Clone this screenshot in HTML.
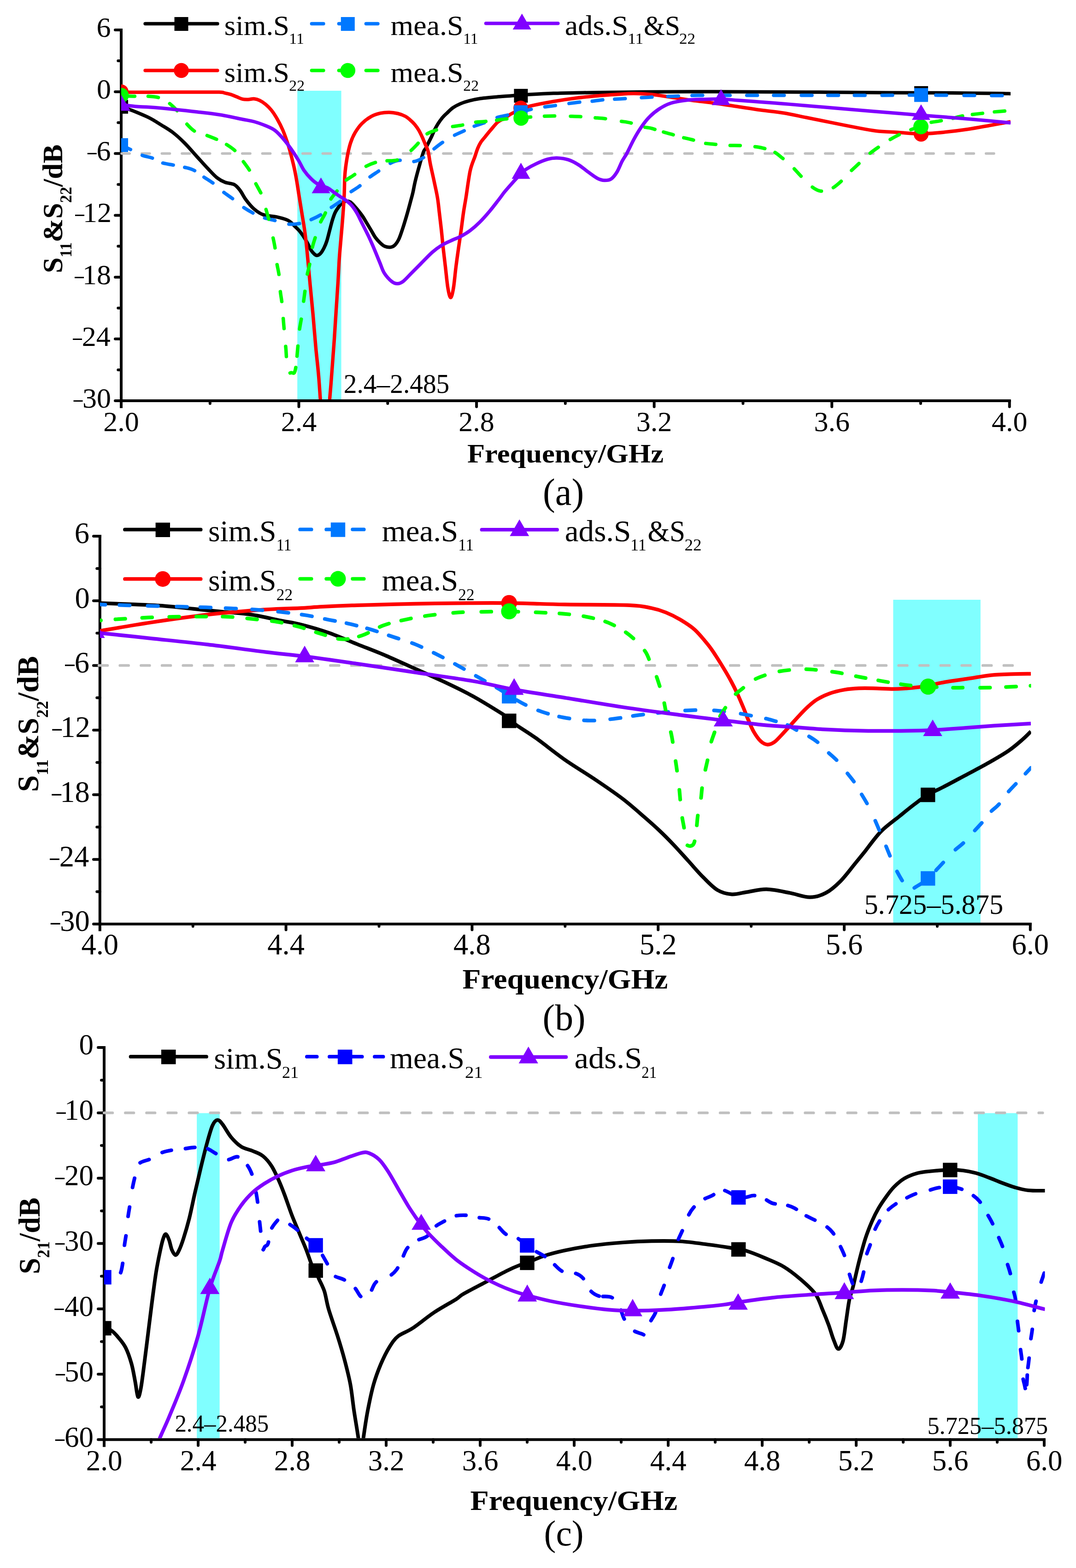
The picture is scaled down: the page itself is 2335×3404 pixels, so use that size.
<!DOCTYPE html>
<html><head><meta charset="utf-8"><title>S-parameter plots</title>
<style>html,body{margin:0;padding:0;background:#fff;}svg{display:block;}
text{font-family:"Liberation Serif","DejaVu Serif",serif;fill:#000;}</style></head>
<body><svg xmlns="http://www.w3.org/2000/svg" width="2335" height="3404" viewBox="0 0 2335 3404">
<rect x="0" y="0" width="2335" height="3404" fill="#fff"/>
<defs><clipPath id="ca"><rect x="263.0" y="0" width="1930.5" height="867.0"/></clipPath></defs>
<line x1="263.0" y1="62.0" x2="263.0" y2="886.0" stroke="#000000" stroke-width="6.0" stroke-linecap="butt"/>
<line x1="260.0" y1="870.0" x2="2193.7" y2="870.0" stroke="#000000" stroke-width="6.0" stroke-linecap="butt"/>
<line x1="250.0" y1="199.2" x2="263.0" y2="199.2" stroke="#000000" stroke-width="6.0" stroke-linecap="round"/>
<line x1="250.0" y1="333.3" x2="263.0" y2="333.3" stroke="#000000" stroke-width="6.0" stroke-linecap="round"/>
<line x1="250.0" y1="467.5" x2="263.0" y2="467.5" stroke="#000000" stroke-width="6.0" stroke-linecap="round"/>
<line x1="250.0" y1="601.7" x2="263.0" y2="601.7" stroke="#000000" stroke-width="6.0" stroke-linecap="round"/>
<line x1="250.0" y1="735.8" x2="263.0" y2="735.8" stroke="#000000" stroke-width="6.0" stroke-linecap="round"/>
<line x1="250.0" y1="870.0" x2="263.0" y2="870.0" stroke="#000000" stroke-width="6.0" stroke-linecap="round"/>
<line x1="250.0" y1="65.0" x2="266.0" y2="65.0" stroke="#000000" stroke-width="6.0" stroke-linecap="butt"/>
<circle cx="250" cy="65.0" r="3"/>
<line x1="256.3" y1="132.1" x2="263.0" y2="132.1" stroke="#000000" stroke-width="6.0" stroke-linecap="round"/>
<line x1="256.3" y1="266.2" x2="263.0" y2="266.2" stroke="#000000" stroke-width="6.0" stroke-linecap="round"/>
<line x1="256.3" y1="400.4" x2="263.0" y2="400.4" stroke="#000000" stroke-width="6.0" stroke-linecap="round"/>
<line x1="256.3" y1="534.6" x2="263.0" y2="534.6" stroke="#000000" stroke-width="6.0" stroke-linecap="round"/>
<line x1="256.3" y1="668.8" x2="263.0" y2="668.8" stroke="#000000" stroke-width="6.0" stroke-linecap="round"/>
<line x1="256.3" y1="802.9" x2="263.0" y2="802.9" stroke="#000000" stroke-width="6.0" stroke-linecap="round"/>
<line x1="648.5" y1="870.0" x2="648.5" y2="883.0" stroke="#000000" stroke-width="6.0" stroke-linecap="round"/>
<line x1="1034.1" y1="870.0" x2="1034.1" y2="883.0" stroke="#000000" stroke-width="6.0" stroke-linecap="round"/>
<line x1="1419.6" y1="870.0" x2="1419.6" y2="883.0" stroke="#000000" stroke-width="6.0" stroke-linecap="round"/>
<line x1="1805.2" y1="870.0" x2="1805.2" y2="883.0" stroke="#000000" stroke-width="6.0" stroke-linecap="round"/>
<line x1="2190.7" y1="870.0" x2="2190.7" y2="883.0" stroke="#000000" stroke-width="6.0" stroke-linecap="round"/>
<line x1="455.8" y1="870.0" x2="455.8" y2="876.0" stroke="#000000" stroke-width="6.0" stroke-linecap="round"/>
<line x1="841.3" y1="870.0" x2="841.3" y2="876.0" stroke="#000000" stroke-width="6.0" stroke-linecap="round"/>
<line x1="1226.8" y1="870.0" x2="1226.8" y2="876.0" stroke="#000000" stroke-width="6.0" stroke-linecap="round"/>
<line x1="1612.4" y1="870.0" x2="1612.4" y2="876.0" stroke="#000000" stroke-width="6.0" stroke-linecap="round"/>
<line x1="1997.9" y1="870.0" x2="1997.9" y2="876.0" stroke="#000000" stroke-width="6.0" stroke-linecap="round"/>
<text x="240.6" y="79.8" font-size="62.0" text-anchor="end">6</text>
<text x="241.1" y="214.0" font-size="62.0" text-anchor="end">0</text>
<text x="240.6" y="348.1" font-size="62.0" text-anchor="end">6</text>
<text x="190.0" y="348.1" font-size="62.0" textLength="19.5" lengthAdjust="spacingAndGlyphs">–</text>
<text x="242.1" y="482.3" font-size="62.0" text-anchor="end">12</text>
<text x="163.3" y="482.3" font-size="62.0" textLength="19.5" lengthAdjust="spacingAndGlyphs">–</text>
<text x="241.1" y="616.5" font-size="62.0" text-anchor="end">18</text>
<text x="162.3" y="616.5" font-size="62.0" textLength="19.5" lengthAdjust="spacingAndGlyphs">–</text>
<text x="239.7" y="750.6" font-size="62.0" text-anchor="end">24</text>
<text x="158.2" y="750.6" font-size="62.0" textLength="19.5" lengthAdjust="spacingAndGlyphs">–</text>
<text x="241.1" y="884.8" font-size="62.0" text-anchor="end">30</text>
<text x="159.8" y="884.8" font-size="62.0" textLength="19.5" lengthAdjust="spacingAndGlyphs">–</text>
<text x="263.0" y="935.5" font-size="62.0" text-anchor="middle">2.0</text>
<text x="648.5" y="935.5" font-size="62.0" text-anchor="middle">2.4</text>
<text x="1034.1" y="935.5" font-size="62.0" text-anchor="middle">2.8</text>
<text x="1419.6" y="935.5" font-size="62.0" text-anchor="middle">3.2</text>
<text x="1805.2" y="935.5" font-size="62.0" text-anchor="middle">3.6</text>
<text x="2190.7" y="935.5" font-size="62.0" text-anchor="middle">4.0</text>
<text x="135.0" y="593.0" font-size="62.0" font-weight="bold" textLength="279.6" lengthAdjust="spacingAndGlyphs" transform="rotate(-90 135.0 593.0)"><tspan>S</tspan><tspan font-size="35.0" dy="20.0">11</tspan><tspan dy="-20.0">&amp;S</tspan><tspan font-size="35.0" dy="20.0">22</tspan><tspan dy="-20.0">/dB</tspan></text>
<text x="1013.9" y="1004.2" font-size="57.9" font-weight="bold" textLength="426.2" lengthAdjust="spacingAndGlyphs">Frequency/GHz</text>
<text x="1178.1" y="1095.7" font-size="81.5" textLength="89.1" lengthAdjust="spacingAndGlyphs">(a)</text>
<rect x="645.2" y="197" width="95.4" height="670" fill="#80FFFF"/>
<line x1="264.0" y1="333.3" x2="2182.0" y2="333.3" stroke="#C0C0C0" stroke-width="5.5" stroke-linecap="round" stroke-dasharray="17.3 26.32"/>
<text x="745.8" y="852.5" font-size="59.6" textLength="229.5" lengthAdjust="spacingAndGlyphs">2.4–2.485</text>
<path d="M263.0,231.8 C265.4,232.6 271.4,234.3 277.6,236.5 C283.8,238.7 292.2,241.9 300.2,245.2 C308.1,248.5 316.9,252.1 325.3,256.5 C333.7,260.9 342.0,266.4 350.4,271.6 C358.8,276.8 367.1,281.4 375.5,287.9 C383.9,294.4 392.2,302.1 400.6,310.5 C409.0,318.9 417.3,328.9 425.7,338.1 C434.1,347.3 443.3,357.8 450.8,365.7 C458.3,373.6 464.5,380.8 470.8,385.8 C477.1,390.8 482.1,393.3 488.4,395.8 C494.7,398.3 503.1,397.9 508.5,400.8 C513.9,403.7 516.8,407.9 521.0,413.4 C525.2,418.8 528.6,426.8 533.6,433.5 C538.6,440.2 544.8,448.1 551.1,453.5 C557.4,458.9 562.8,463.2 571.2,466.1 C579.6,469.0 592.2,469.0 601.3,471.1 C610.4,473.2 619.2,475.4 625.7,478.8 C632.2,482.2 636.1,487.8 640.0,491.4 C643.9,495.0 646.0,496.9 649.0,500.4 C652.0,503.9 655.1,508.0 658.1,512.5 C661.1,517.0 664.4,522.5 667.1,527.5 C669.9,532.5 672.1,538.6 674.6,542.6 C677.1,546.6 679.9,549.6 682.2,551.6 C684.5,553.6 686.0,554.9 688.2,554.6 C690.5,554.4 693.2,552.9 695.7,550.1 C698.2,547.4 700.9,542.6 703.2,538.1 C705.5,533.6 707.3,529.3 709.3,523.0 C711.3,516.7 713.3,507.9 715.3,500.4 C717.3,492.9 719.3,484.4 721.3,477.9 C723.3,471.4 725.0,466.1 727.3,461.3 C729.6,456.5 732.4,452.8 734.9,449.3 C737.4,445.8 739.6,442.3 742.4,440.2 C745.1,438.1 748.4,436.8 751.4,436.5 C754.4,436.2 757.4,436.8 760.4,438.7 C763.4,440.6 766.5,444.4 769.5,447.7 C772.5,451.0 775.5,454.5 778.5,458.3 C781.5,462.1 784.5,465.8 787.5,470.3 C790.5,474.8 793.6,480.4 796.6,485.4 C799.6,490.4 802.6,495.4 805.6,500.4 C808.6,505.4 811.3,511.0 814.6,515.5 C817.9,520.0 821.7,524.2 825.2,527.5 C828.7,530.8 831.9,533.6 835.7,535.1 C839.5,536.6 844.3,537.1 847.8,536.6 C851.3,536.1 853.8,535.1 856.8,532.1 C859.8,529.1 862.8,525.0 865.8,518.5 C868.8,512.0 872.1,501.4 874.9,492.9 C877.7,484.4 880.0,476.4 882.6,467.6 C885.2,458.8 888.0,448.3 890.2,440.0 C892.4,431.7 894.2,425.8 896.0,418.0 C897.8,410.2 898.6,403.7 901.1,393.3 C903.6,382.9 908.2,366.2 911.2,355.7 C914.2,345.1 916.8,335.7 918.9,330.0 C921.0,324.3 922.0,325.2 923.9,321.7 C925.8,318.2 928.1,313.4 930.2,309.2 C932.3,305.0 934.4,301.0 936.5,296.6 C938.6,292.2 940.4,287.4 942.7,282.8 C945.0,278.2 947.4,273.6 950.3,269.0 C953.2,264.4 957.0,259.2 960.3,255.2 C963.6,251.2 966.5,248.8 970.3,245.2 C974.1,241.6 978.1,237.2 982.9,233.9 C987.7,230.6 993.4,227.6 999.2,225.1 C1005.1,222.6 1010.7,220.8 1018.0,218.9 C1025.3,217.0 1032.8,215.3 1043.1,213.8 C1053.4,212.3 1068.0,211.1 1080.0,210.1 C1092.0,209.1 1106.7,208.2 1115.1,207.6 C1123.5,207.0 1124.5,206.9 1130.4,206.5 C1136.4,206.1 1139.0,205.8 1150.8,205.1 C1162.6,204.4 1184.3,203.2 1201.0,202.6 C1217.7,202.0 1234.6,201.7 1251.1,201.4 C1267.6,201.1 1275.2,201.1 1300.0,200.8 C1324.8,200.5 1366.7,199.8 1400.0,199.5 C1433.3,199.2 1466.7,199.1 1500.0,199.0 C1533.3,198.9 1566.7,199.1 1600.0,199.2 C1633.3,199.3 1666.7,199.6 1700.0,199.8 C1733.3,200.0 1766.7,200.0 1800.0,200.2 C1833.3,200.4 1866.8,200.8 1900.0,201.0 C1933.2,201.2 1971.4,201.4 1999.0,201.5 C2026.6,201.6 2038.2,201.6 2065.6,201.8 C2093.0,202.0 2142.3,202.4 2163.5,202.7 C2184.7,203.0 2188.1,203.4 2193.0,203.5" fill="none" stroke="#000000" stroke-width="7.5" stroke-linejoin="round" stroke-linecap="butt" clip-path="url(#ca)"/>
<rect x="248.0" y="216.8" width="30.0" height="30.0" fill="#000000" clip-path="url(#ca)"/>
<rect x="1115.4" y="192.9" width="30.0" height="30.0" fill="#000000" clip-path="url(#ca)"/>
<rect x="1984.0" y="187.0" width="30.0" height="30.0" fill="#000000" clip-path="url(#ca)"/>
<path d="M263.0,199.3 C265.4,199.5 263.1,200.1 277.6,200.2 C292.1,200.3 326.3,200.1 350.0,200.1 C373.7,200.1 399.0,200.1 420.0,200.1 C441.0,200.1 464.4,199.8 475.8,200.1 C487.2,200.4 484.2,201.3 488.4,202.1 C492.6,202.9 496.8,203.8 501.0,205.1 C505.2,206.4 509.3,208.4 513.5,210.1 C517.7,211.8 521.8,214.1 526.0,215.1 C530.2,216.1 534.4,216.0 538.6,215.9 C542.8,215.8 546.9,214.2 551.1,214.6 C555.3,215.0 559.5,216.1 563.7,218.1 C567.9,220.1 572.0,222.9 576.2,226.4 C580.4,229.9 584.6,233.8 588.8,239.0 C593.0,244.2 597.1,250.5 601.3,257.8 C605.5,265.1 609.7,272.9 613.9,282.9 C618.1,292.9 622.6,305.9 626.4,318.0 C630.1,330.1 633.6,344.1 636.4,355.7 C639.2,367.3 640.9,375.9 643.0,387.5 C645.1,399.1 647.0,412.6 649.0,425.2 C651.0,437.8 653.1,450.3 655.1,462.8 C657.1,475.3 659.4,487.8 661.1,500.4 C662.9,512.9 664.2,524.8 665.6,538.1 C667.0,551.4 668.2,565.9 669.5,580.0 C670.8,594.1 671.8,605.4 673.5,623.0 C675.2,640.6 677.5,663.5 679.5,685.8 C681.5,708.0 683.5,735.3 685.5,756.5 C687.5,777.7 689.6,794.1 691.2,812.9 C692.9,831.7 693.9,849.9 695.4,869.4 C696.9,888.9 698.3,914.9 700.0,930.0 C701.7,945.1 703.7,960.0 705.5,960.0 C707.3,960.0 709.4,945.1 711.0,930.0 C712.6,914.9 714.0,886.1 715.2,869.4 C716.5,852.7 717.5,843.2 718.5,830.0 C719.5,816.8 720.3,805.7 721.5,790.0 C722.7,774.3 724.2,755.5 725.5,736.0 C726.8,716.5 728.1,693.9 729.5,673.0 C730.9,652.1 732.5,629.4 733.6,610.6 C734.8,591.8 735.3,575.9 736.4,560.0 C737.5,544.1 738.9,530.5 740.1,515.5 C741.4,500.6 742.8,485.4 743.9,470.3 C745.0,455.2 746.1,440.2 746.9,425.2 C747.6,410.1 747.4,393.7 748.4,380.0 C749.4,366.3 751.1,354.7 753.1,343.1 C755.1,331.5 757.7,319.7 760.6,310.5 C763.5,301.3 766.4,295.0 770.6,287.9 C774.8,280.8 779.8,273.6 785.7,267.8 C791.6,262.0 799.1,256.5 805.8,252.8 C812.5,249.1 819.3,247.2 825.8,245.7 C832.3,244.2 838.4,243.9 844.7,244.0 C851.0,244.1 857.6,245.1 863.5,246.5 C869.4,247.9 875.6,250.4 880.0,252.7 C884.4,255.0 886.6,257.4 890.0,260.3 C893.4,263.2 897.0,266.6 900.1,270.3 C903.2,274.1 906.2,278.2 908.9,282.8 C911.6,287.4 914.1,292.9 916.4,297.9 C918.7,302.9 920.6,308.0 922.7,313.0 C924.8,318.0 927.0,320.9 928.9,328.0 C930.8,335.1 931.6,344.8 933.8,355.7 C936.0,366.6 939.4,380.9 942.0,393.3 C944.6,405.7 947.6,418.4 949.5,430.0 C951.4,441.6 952.1,450.9 953.5,462.6 C954.9,474.3 956.5,487.8 957.9,500.3 C959.3,512.9 960.2,524.5 961.7,537.9 C963.2,551.3 965.0,566.0 966.7,580.6 C968.4,595.2 970.1,614.8 972.0,625.7 C973.9,636.6 976.0,646.0 978.0,646.0 C980.0,646.0 982.1,636.6 984.0,625.7 C985.9,614.8 987.4,595.7 989.3,580.6 C991.2,565.5 993.6,548.8 995.5,535.4 C997.4,522.0 998.9,512.4 1000.6,500.3 C1002.3,488.2 1003.9,474.3 1005.6,462.6 C1007.3,450.9 1008.5,445.3 1011.0,430.0 C1013.5,414.7 1017.0,385.8 1020.3,370.8 C1023.6,355.8 1027.8,348.2 1030.6,340.0 C1033.3,331.8 1034.7,326.8 1036.8,321.7 C1038.9,316.6 1040.4,313.4 1043.1,309.2 C1045.8,305.0 1049.5,301.0 1053.1,296.6 C1056.6,292.2 1059.9,288.0 1064.4,282.8 C1068.9,277.6 1075.2,269.5 1080.0,265.3 C1084.8,261.1 1087.9,260.9 1093.0,257.8 C1098.1,254.7 1104.4,249.9 1110.6,246.5 C1116.8,243.1 1123.5,240.0 1130.2,237.3 C1136.9,234.6 1139.0,233.0 1150.8,230.2 C1162.6,227.3 1184.3,223.1 1201.0,220.2 C1217.7,217.3 1234.4,214.8 1251.1,212.7 C1267.8,210.6 1286.9,208.9 1301.3,207.6 C1315.7,206.3 1325.3,205.8 1337.6,205.1 C1349.9,204.3 1362.8,203.1 1375.3,203.1 C1387.8,203.1 1400.4,203.9 1412.9,205.1 C1425.5,206.3 1435.9,208.1 1450.6,210.2 C1465.2,212.3 1484.1,215.4 1500.8,217.7 C1517.5,220.0 1534.2,221.7 1550.9,224.0 C1567.6,226.3 1584.4,229.0 1601.1,231.5 C1617.8,234.0 1634.8,236.7 1651.3,239.0 C1667.8,241.3 1683.7,242.6 1700.2,245.3 C1716.7,248.0 1733.7,252.0 1750.4,255.3 C1767.1,258.6 1783.9,262.0 1800.6,265.4 C1817.3,268.8 1834.1,272.3 1850.8,275.4 C1867.5,278.5 1884.4,282.2 1901.0,284.2 C1917.6,286.2 1934.0,286.4 1950.2,287.5 C1966.4,288.6 1981.3,290.6 1998.0,290.5 C2014.7,290.4 2033.5,288.5 2050.6,286.8 C2067.7,285.1 2084.1,283.0 2100.8,280.5 C2117.5,278.0 2135.6,274.4 2151.0,271.7 C2166.4,269.0 2186.0,265.4 2193.0,264.2" fill="none" stroke="#FF0000" stroke-width="7.5" stroke-linejoin="round" stroke-linecap="butt" clip-path="url(#ca)"/>
<circle cx="263.0" cy="199.3" r="16.0" fill="#FF0000" clip-path="url(#ca)"/>
<circle cx="1130.0" cy="234.4" r="16.0" fill="#FF0000" clip-path="url(#ca)"/>
<circle cx="1998.9" cy="291.5" r="16.0" fill="#FF0000" clip-path="url(#ca)"/>
<path d="M263.0,315.0 C265.8,316.3 272.6,319.4 280.0,323.0 C287.4,326.6 299.3,333.4 307.7,336.8 C316.1,340.2 323.2,340.4 330.3,343.1 C337.4,345.8 342.9,350.6 350.4,353.1 C357.9,355.6 367.1,356.5 375.5,358.2 C383.9,359.9 393.1,361.3 400.6,363.2 C408.1,365.1 413.9,366.1 420.6,369.5 C427.3,372.9 433.6,378.5 440.7,383.3 C447.8,388.1 456.2,392.9 463.3,398.3 C470.4,403.7 476.3,410.2 483.4,415.9 C490.5,421.5 498.9,426.8 506.0,432.2 C513.1,437.6 518.9,443.5 526.0,448.5 C533.1,453.5 541.1,458.3 548.6,462.3 C556.1,466.3 563.2,469.6 571.2,472.3 C579.2,475.0 587.6,476.3 596.3,478.6 C604.9,480.9 614.0,485.2 623.1,486.3 C632.2,487.4 642.4,486.6 650.8,485.1 C659.2,483.7 665.8,480.7 673.3,477.6 C680.8,474.5 688.6,470.8 695.7,466.6 C702.8,462.4 708.7,457.3 716.0,452.3 C723.3,447.3 732.2,442.1 739.4,436.5 C746.5,430.9 752.1,423.8 758.9,418.4 C765.7,413.0 773.0,409.5 780.0,404.1 C787.0,398.7 794.0,391.2 800.8,385.8 C807.6,380.4 813.5,377.0 820.8,372.0 C828.1,367.0 837.2,359.7 844.7,355.7 C852.2,351.7 857.0,349.0 866.0,348.1 C875.0,347.2 889.4,351.9 898.6,350.6 C907.8,349.4 914.5,344.8 921.2,340.6 C927.9,336.4 932.5,330.7 939.0,325.5 C945.5,320.3 953.0,314.2 960.3,309.2 C967.6,304.2 975.6,299.4 982.9,295.4 C990.2,291.4 997.1,288.8 1004.2,285.4 C1011.3,282.0 1017.6,278.4 1025.5,275.3 C1033.3,272.2 1042.5,269.8 1051.3,266.5 C1060.0,263.2 1069.0,258.2 1078.0,255.3 C1087.0,252.4 1096.9,251.0 1105.6,249.0 C1114.3,247.0 1122.5,245.4 1130.0,243.5 C1137.5,241.6 1142.7,239.6 1150.8,237.8 C1158.9,236.0 1169.2,234.2 1178.4,232.7 C1187.6,231.2 1197.2,230.2 1206.0,229.0 C1214.8,227.8 1221.8,226.5 1231.0,225.2 C1240.2,223.9 1252.8,222.2 1261.2,221.4 C1269.6,220.6 1272.8,221.0 1281.2,220.2 C1289.6,219.4 1300.7,217.3 1311.4,216.4 C1322.1,215.5 1330.0,215.5 1345.2,214.7 C1360.5,213.9 1383.7,212.4 1402.9,211.4 C1422.1,210.4 1442.2,209.6 1460.6,208.9 C1479.0,208.2 1490.1,207.4 1513.3,207.1 C1536.5,206.8 1568.9,207.0 1600.0,207.0 C1631.1,207.0 1666.7,207.0 1700.0,207.0 C1733.3,207.0 1766.7,207.0 1800.0,207.0 C1833.3,207.0 1866.8,207.1 1900.0,207.0 C1933.2,206.9 1965.7,206.5 1999.0,206.5 C2032.3,206.5 2067.7,207.0 2100.0,207.2 C2132.3,207.4 2177.5,207.6 2193.0,207.7" fill="none" stroke="#0078FF" stroke-width="7.5" stroke-linejoin="round" stroke-linecap="round" stroke-dasharray="23.0 28.0 23.0 25.2 23.0 25.2 23.0 24.7 23.0 31.5 23.0 31.4 23.0 27.6 23.0 31.4 23.0 26.8 23.0 28.6 23.0 31.9 23.0 28.9 23.0 29.8 23.0 29.8 23.0 29.8 23.0 30.3 23.0 24.1 23.0 30.1 23.0 30.1 23.0 30.1 23.0 30.1 23.0 27.5 23.0 25.9 23.0 35.2 23.0 34.2 23.0 29.8 23.0 36.4 23.0 36.4 23.0 35.0 23.0 37.3 23.0 34.5 23.0 34.6 23.0 36.9 23.0 36.3 23.0 34.7 23.0 37.9 23.0 36.8 23.0 28.0 23.0 4047.5" stroke-dashoffset="0.34" clip-path="url(#ca)"/>
<rect x="248.0" y="300.0" width="30.0" height="30.0" fill="#0078FF" clip-path="url(#ca)"/>
<rect x="1115.0" y="228.5" width="30.0" height="30.0" fill="#0078FF" clip-path="url(#ca)"/>
<rect x="1983.9" y="191.3" width="30.0" height="30.0" fill="#0078FF" clip-path="url(#ca)"/>
<path d="M263.0,207.2 C265.4,207.4 273.1,208.2 277.6,208.5 C282.1,208.8 283.5,208.8 290.2,208.9 C296.9,209.0 308.6,208.4 317.8,208.9 C327.0,209.4 337.5,209.8 345.4,212.1 C353.3,214.4 358.7,217.8 365.4,222.7 C372.1,227.6 379.2,234.2 385.5,241.5 C391.8,248.8 396.8,259.3 403.1,266.6 C409.4,273.9 416.0,281.0 423.1,285.4 C430.2,289.8 438.2,290.2 445.7,292.9 C453.2,295.6 461.2,298.6 468.3,301.7 C475.4,304.8 481.3,307.3 488.4,311.7 C495.5,316.1 504.7,322.0 511.0,328.1 C517.3,334.2 520.6,340.6 526.0,348.1 C531.4,355.6 539.0,365.2 543.6,373.2 C548.2,381.1 549.4,387.2 553.6,395.8 C557.8,404.4 564.9,415.5 568.7,424.7 C572.5,433.9 573.6,441.8 576.2,451.0 C578.8,460.2 581.7,469.8 584.3,480.1 C586.9,490.4 589.7,503.1 591.8,512.7 C593.9,522.3 595.3,528.2 596.8,537.8 C598.3,547.4 599.1,560.4 600.6,570.4 C602.1,580.4 604.4,588.0 605.6,598.0 C606.9,608.0 607.1,620.6 608.1,630.6 C609.1,640.6 610.9,648.6 611.9,658.2 C612.9,667.8 613.6,678.4 614.4,688.4 C615.2,698.4 615.9,706.6 616.9,718.5 C617.9,730.4 619.7,748.1 620.6,760.0 C621.5,771.9 621.6,781.9 622.5,790.0 C623.4,798.1 624.4,805.5 626.0,808.7 C627.6,811.9 629.8,809.0 632.0,809.0 C634.2,809.0 637.2,811.9 639.0,808.7 C640.8,805.5 641.9,798.1 643.0,790.0 C644.1,781.9 644.6,771.9 645.7,760.0 C646.8,748.1 648.0,730.4 649.5,718.5 C651.0,706.6 653.0,698.4 654.5,688.4 C656.0,678.4 657.0,667.8 658.3,658.2 C659.5,648.6 660.8,640.2 662.0,630.6 C663.2,621.0 664.1,610.1 665.8,600.5 C667.5,590.9 670.2,582.9 672.1,572.9 C674.0,562.9 675.0,550.1 677.1,540.3 C679.2,530.5 681.8,523.1 684.6,514.0 C687.5,504.9 690.6,494.0 694.2,485.4 C697.8,476.8 702.6,470.4 706.2,462.1 C709.8,453.8 712.0,443.4 716.0,435.7 C720.0,428.0 724.9,423.1 730.3,416.1 C735.7,409.1 742.1,399.6 748.4,393.6 C754.7,387.6 761.0,385.1 768.0,380.0 C775.0,374.9 783.2,367.7 790.7,363.2 C798.2,358.7 805.8,355.4 813.3,353.1 C820.8,350.8 827.5,350.4 835.9,349.4 C844.3,348.4 854.7,350.2 863.5,346.9 C872.3,343.5 881.9,334.9 888.8,329.3 C895.7,323.8 899.4,319.7 905.1,313.6 C910.9,307.5 916.0,298.2 923.3,292.9 C930.6,287.6 939.8,284.5 949.0,281.6 C958.2,278.7 969.5,277.0 978.5,275.3 C987.5,273.6 994.8,273.2 1003.0,271.6 C1011.2,270.0 1020.2,267.2 1028.0,265.9 C1035.8,264.6 1042.5,264.7 1050.0,264.0 C1057.5,263.3 1064.4,262.6 1073.0,261.6 C1081.6,260.6 1092.2,258.7 1101.8,257.8 C1111.4,256.9 1122.5,257.0 1130.7,256.4 C1138.9,255.8 1143.1,254.8 1150.8,254.1 C1158.5,253.4 1167.9,252.7 1177.1,252.3 C1186.3,251.9 1196.6,251.8 1206.0,251.8 C1215.4,251.8 1224.2,252.1 1233.6,252.3 C1243.0,252.6 1253.4,252.8 1262.4,253.3 C1271.4,253.8 1278.7,254.6 1287.5,255.3 C1296.3,256.1 1305.6,256.6 1315.0,257.8 C1324.4,259.1 1335.1,261.3 1343.9,262.8 C1352.7,264.3 1359.2,264.5 1367.8,266.6 C1376.4,268.7 1387.9,273.4 1395.4,275.4 C1402.9,277.4 1406.2,276.7 1412.9,278.4 C1419.6,280.1 1428.0,283.2 1435.5,285.4 C1443.0,287.6 1450.8,289.6 1458.1,291.7 C1465.4,293.8 1472.3,296.1 1479.4,298.0 C1486.5,299.9 1492.8,300.9 1500.8,303.0 C1508.8,305.1 1519.2,308.8 1527.1,310.5 C1535.0,312.2 1539.6,312.2 1548.4,313.0 C1557.2,313.8 1570.0,315.0 1579.8,315.5 C1589.6,316.0 1598.4,315.6 1607.4,316.0 C1616.4,316.4 1625.8,317.1 1633.8,318.0 C1641.8,318.9 1647.6,319.4 1655.1,321.3 C1662.6,323.2 1671.8,325.7 1678.9,329.3 C1686.0,332.9 1690.8,337.5 1697.7,343.1 C1704.6,348.8 1713.6,356.7 1720.3,363.2 C1727.0,369.7 1731.3,375.3 1737.8,382.0 C1744.3,388.7 1752.1,397.9 1759.2,403.4 C1766.3,408.8 1773.0,413.7 1780.5,414.7 C1788.0,415.7 1796.8,413.2 1804.3,409.6 C1811.8,406.0 1819.0,399.4 1825.7,393.3 C1832.4,387.2 1838.0,379.8 1844.5,373.3 C1851.0,366.8 1857.9,360.7 1864.6,354.4 C1871.3,348.1 1877.9,341.2 1884.6,335.6 C1891.3,330.0 1897.6,325.6 1904.7,320.6 C1911.8,315.6 1919.8,310.1 1927.3,305.5 C1934.8,300.9 1942.4,296.8 1949.9,293.0 C1957.4,289.2 1964.4,285.9 1972.5,282.9 C1980.6,279.9 1991.1,277.7 1998.4,275.0 C2005.7,272.3 2009.8,268.6 2016.4,266.6 C2023.0,264.6 2030.2,264.3 2038.0,262.9 C2045.8,261.4 2055.6,259.6 2063.1,257.9 C2070.6,256.2 2076.1,254.4 2083.2,252.9 C2090.3,251.4 2097.9,250.2 2105.8,249.1 C2113.8,248.0 2123.0,247.1 2130.9,246.1 C2138.8,245.1 2144.9,244.2 2153.5,243.3 C2162.1,242.4 2175.7,241.4 2182.3,240.8 C2188.9,240.2 2191.3,240.0 2193.1,239.8" fill="none" stroke="#00FF00" stroke-width="7.5" stroke-linejoin="round" stroke-linecap="round" stroke-dasharray="22.0 29.0 22.0 29.0 22.0 28.6 22.0 36.3 22.0 29.5 22.0 24.7 22.0 31.0 22.0 33.4 22.0 38.0 22.0 41.7 22.0 36.4 22.0 37.2 22.0 36.9 22.0 38.6 22.0 39.4 22.0 24.5 22.0 36.9 22.0 39.0 22.0 37.6 22.0 37.1 22.0 36.3 22.0 32.4 22.0 31.2 22.0 30.2 22.0 25.8 22.0 36.8 22.0 28.3 22.0 35.7 22.0 29.1 22.0 23.9 22.0 30.0 22.0 30.0 22.0 34.5 22.0 32.0 22.0 34.9 22.0 31.2 22.0 19.4 22.0 23.7 22.0 27.3 22.0 31.0 22.0 32.1 22.0 23.5 22.0 32.8 22.0 34.0 22.0 27.1 22.0 32.5 22.0 33.0 22.0 30.9 22.0 27.9 22.0 25.0 22.0 25.5 22.0 21.6 22.0 26.1 22.0 29.0 22.0 4862.5" stroke-dashoffset="43.38" clip-path="url(#ca)"/>
<circle cx="263.0" cy="207.2" r="16.5" fill="#00FF00" clip-path="url(#ca)"/>
<circle cx="1130.7" cy="256.4" r="16.5" fill="#00FF00" clip-path="url(#ca)"/>
<circle cx="1998.4" cy="275.0" r="16.5" fill="#00FF00" clip-path="url(#ca)"/>
<path d="M263.0,226.0 C265.5,226.6 271.8,228.4 278.0,229.3 C284.2,230.2 292.1,230.9 300.0,231.5 C307.9,232.1 312.7,231.8 325.3,232.7 C337.9,233.6 358.8,235.5 375.5,237.2 C392.2,238.9 409.0,240.7 425.7,242.7 C442.4,244.7 459.1,246.3 475.8,249.0 C492.5,251.7 513.5,256.5 526.0,259.0 C538.5,261.5 542.7,261.7 551.1,264.0 C559.5,266.3 568.7,269.7 576.2,272.8 C583.7,275.9 590.0,278.3 596.3,282.9 C602.6,287.5 608.0,293.8 613.9,300.5 C619.8,307.2 625.8,315.1 631.4,323.0 C637.0,330.9 642.9,340.2 647.7,348.1 C652.5,356.1 655.6,364.0 660.2,370.7 C664.8,377.4 670.4,383.5 675.3,388.3 C680.2,393.1 683.8,396.3 689.7,399.6 C695.6,402.9 705.3,405.1 710.8,407.9 C716.3,410.6 718.3,413.0 722.8,416.1 C727.3,419.2 733.4,423.7 737.9,426.7 C742.4,429.7 746.1,431.4 749.9,434.2 C753.6,436.9 757.4,440.2 760.4,443.2 C763.4,446.2 765.5,448.8 768.0,452.3 C770.5,455.8 773.0,459.8 775.5,464.3 C778.0,468.8 780.5,474.4 783.0,479.4 C785.5,484.4 787.8,488.9 790.6,494.4 C793.4,499.9 796.7,506.4 799.6,512.5 C802.5,518.6 805.3,524.8 808.0,531.0 C810.7,537.2 813.2,543.2 816.0,550.0 C818.8,556.8 822.0,564.8 825.0,572.0 C828.0,579.2 829.8,586.5 834.0,593.0 C838.2,599.5 845.2,607.2 850.0,611.0 C854.8,614.8 858.3,615.8 862.5,615.7 C866.7,615.7 870.1,614.5 875.1,610.7 C880.1,606.9 886.4,599.4 892.7,593.1 C899.0,586.8 905.2,580.5 912.7,573.0 C920.2,565.5 930.3,554.6 937.8,547.9 C945.3,541.2 951.2,537.1 957.9,532.9 C964.6,528.7 970.9,526.1 978.0,522.8 C985.1,519.4 993.5,516.5 1000.6,512.8 C1007.7,509.0 1013.9,505.3 1020.6,500.3 C1027.3,495.3 1033.6,489.8 1040.7,482.7 C1047.8,475.6 1056.2,466.1 1063.3,457.6 C1070.4,449.2 1078.0,438.9 1083.4,432.0 C1088.8,425.1 1090.5,421.9 1095.5,415.9 C1100.5,409.9 1107.3,402.3 1113.1,395.8 C1118.9,389.3 1125.9,381.6 1130.5,377.0 C1135.1,372.4 1135.2,371.8 1140.7,368.2 C1146.2,364.6 1155.3,359.4 1163.3,355.7 C1171.2,351.9 1180.9,347.8 1188.4,345.7 C1195.9,343.6 1201.0,342.9 1208.5,343.1 C1216.0,343.3 1225.7,344.4 1233.6,346.9 C1241.5,349.4 1249.0,353.8 1256.1,358.2 C1263.2,362.6 1269.5,368.5 1276.2,373.3 C1282.9,378.1 1290.4,384.1 1296.3,387.1 C1302.2,390.1 1306.4,391.3 1311.4,391.5 C1316.4,391.7 1321.8,391.3 1326.4,388.3 C1331.0,385.3 1335.1,379.7 1339.0,373.3 C1342.9,366.9 1346.5,356.7 1350.0,350.0 C1353.5,343.3 1356.0,340.9 1360.2,333.1 C1364.4,325.3 1370.3,312.2 1375.3,303.0 C1380.3,293.8 1384.9,285.8 1390.3,277.9 C1395.7,269.9 1401.2,262.2 1407.9,255.3 C1414.6,248.4 1422.5,241.7 1430.5,236.5 C1438.5,231.3 1446.0,227.1 1455.6,224.0 C1465.2,220.9 1476.5,219.1 1488.2,217.7 C1499.9,216.3 1513.0,216.1 1525.8,215.7 C1538.5,215.3 1552.2,214.9 1564.7,215.2 C1577.2,215.5 1586.7,216.7 1601.1,217.7 C1615.5,218.7 1634.8,220.2 1651.3,221.4 C1667.8,222.7 1683.5,223.8 1700.0,225.2 C1716.5,226.5 1725.3,227.4 1750.4,229.5 C1775.5,231.6 1817.3,235.2 1850.8,238.0 C1884.2,240.8 1926.4,244.1 1951.1,246.2 C1975.8,248.2 1982.5,249.0 1999.0,250.3 C2015.5,251.6 2033.0,252.8 2050.0,254.1 C2067.0,255.4 2077.0,256.1 2100.8,258.2 C2124.7,260.3 2177.7,265.3 2193.1,266.7" fill="none" stroke="#8000FF" stroke-width="7.5" stroke-linejoin="round" stroke-linecap="butt" clip-path="url(#ca)"/>
<polygon points="263.0,205.8 243.0,240.6 283.0,240.6" fill="#8000FF" clip-path="url(#ca)"/>
<polygon points="696.5,385.3 676.5,419.4 716.5,419.4" fill="#8000FF" clip-path="url(#ca)"/>
<polygon points="1130.5,353.2 1110.5,388.3 1150.5,388.3" fill="#8000FF" clip-path="url(#ca)"/>
<polygon points="1564.7,193.8 1544.7,228.2 1584.7,228.2" fill="#8000FF" clip-path="url(#ca)"/>
<polygon points="1998.8,226.5 1978.8,260.3 2018.8,260.3" fill="#8000FF" clip-path="url(#ca)"/>
<line x1="315.1" y1="51.4" x2="471.9" y2="51.4" stroke="#000000" stroke-width="7.5" stroke-linecap="round"/>
<rect x="378.5" y="37.0" width="30.0" height="30.0" fill="#000000"/>
<line x1="676.4" y1="51.4" x2="833.2" y2="51.4" stroke="#0078FF" stroke-width="7.5" stroke-linecap="round" stroke-dasharray="25.5 33.5"/>
<rect x="739.8" y="37.0" width="30.0" height="30.0" fill="#0078FF"/>
<line x1="1054.5" y1="50.8" x2="1210.8" y2="50.8" stroke="#8000FF" stroke-width="7.5" stroke-linecap="round"/>
<polygon points="1132.7,29.4 1112.7,64.0 1152.7,64.0" fill="#8000FF"/>
<line x1="315.1" y1="153.0" x2="471.9" y2="153.0" stroke="#FF0000" stroke-width="7.5" stroke-linecap="round"/>
<circle cx="393.5" cy="153.0" r="16.3" fill="#FF0000"/>
<line x1="676.4" y1="153.0" x2="833.2" y2="153.0" stroke="#00FF00" stroke-width="7.5" stroke-linecap="round" stroke-dasharray="25.5 33.5"/>
<circle cx="754.8" cy="153.0" r="16.3" fill="#00FF00"/>
<text x="486.8" y="75.7" font-size="62.3" textLength="141.2" lengthAdjust="spacingAndGlyphs">sim.S</text>
<text x="627.2" y="95.3" font-size="34.2" textLength="32.7" lengthAdjust="spacingAndGlyphs">11</text>
<text x="847.6" y="75.7" font-size="62.3" textLength="158.0" lengthAdjust="spacingAndGlyphs">mea.S</text>
<text x="1005.3" y="95.3" font-size="34.2" textLength="32.3" lengthAdjust="spacingAndGlyphs">11</text>
<text x="1225.8" y="75.7" font-size="62.3" textLength="137.3" lengthAdjust="spacingAndGlyphs">ads.S</text>
<text x="1362.2" y="95.3" font-size="34.2" textLength="34.1" lengthAdjust="spacingAndGlyphs">11</text>
<text x="1397.1" y="75.7" font-size="62.3" textLength="78.9" lengthAdjust="spacingAndGlyphs">&amp;S</text>
<text x="1474.0" y="95.3" font-size="34.2" textLength="35.1" lengthAdjust="spacingAndGlyphs">22</text>
<text x="486.8" y="177.6" font-size="62.3" textLength="141.2" lengthAdjust="spacingAndGlyphs">sim.S</text>
<text x="627.2" y="197.2" font-size="34.2" textLength="33.9" lengthAdjust="spacingAndGlyphs">22</text>
<text x="847.6" y="177.6" font-size="62.3" textLength="158.0" lengthAdjust="spacingAndGlyphs">mea.S</text>
<text x="1005.3" y="197.2" font-size="34.2" textLength="33.8" lengthAdjust="spacingAndGlyphs">22</text>
<defs><clipPath id="cb"><rect x="216.8" y="1000" width="2020.7" height="1003.0"/></clipPath></defs>
<line x1="216.8" y1="1161.0" x2="216.8" y2="2021.4" stroke="#000000" stroke-width="6.0" stroke-linecap="butt"/>
<line x1="213.8" y1="2006.0" x2="2238.8" y2="2006.0" stroke="#000000" stroke-width="6.0" stroke-linecap="butt"/>
<line x1="203.0" y1="1164.0" x2="219.8" y2="1164.0" stroke="#000000" stroke-width="6.0" stroke-linecap="butt"/>
<circle cx="203" cy="1164.0" r="3"/>
<line x1="203.0" y1="1304.3" x2="216.8" y2="1304.3" stroke="#000000" stroke-width="6.0" stroke-linecap="round"/>
<line x1="203.0" y1="1444.7" x2="216.8" y2="1444.7" stroke="#000000" stroke-width="6.0" stroke-linecap="round"/>
<line x1="203.0" y1="1585.0" x2="216.8" y2="1585.0" stroke="#000000" stroke-width="6.0" stroke-linecap="round"/>
<line x1="203.0" y1="1725.3" x2="216.8" y2="1725.3" stroke="#000000" stroke-width="6.0" stroke-linecap="round"/>
<line x1="203.0" y1="1865.7" x2="216.8" y2="1865.7" stroke="#000000" stroke-width="6.0" stroke-linecap="round"/>
<line x1="203.0" y1="2006.0" x2="216.8" y2="2006.0" stroke="#000000" stroke-width="6.0" stroke-linecap="round"/>
<line x1="210.3" y1="1234.2" x2="216.8" y2="1234.2" stroke="#000000" stroke-width="6.0" stroke-linecap="round"/>
<line x1="210.3" y1="1374.5" x2="216.8" y2="1374.5" stroke="#000000" stroke-width="6.0" stroke-linecap="round"/>
<line x1="210.3" y1="1514.8" x2="216.8" y2="1514.8" stroke="#000000" stroke-width="6.0" stroke-linecap="round"/>
<line x1="210.3" y1="1655.2" x2="216.8" y2="1655.2" stroke="#000000" stroke-width="6.0" stroke-linecap="round"/>
<line x1="210.3" y1="1795.5" x2="216.8" y2="1795.5" stroke="#000000" stroke-width="6.0" stroke-linecap="round"/>
<line x1="210.3" y1="1935.8" x2="216.8" y2="1935.8" stroke="#000000" stroke-width="6.0" stroke-linecap="round"/>
<line x1="620.6" y1="2006.0" x2="620.6" y2="2018.4" stroke="#000000" stroke-width="6.0" stroke-linecap="round"/>
<line x1="1024.4" y1="2006.0" x2="1024.4" y2="2018.4" stroke="#000000" stroke-width="6.0" stroke-linecap="round"/>
<line x1="1428.2" y1="2006.0" x2="1428.2" y2="2018.4" stroke="#000000" stroke-width="6.0" stroke-linecap="round"/>
<line x1="1832.0" y1="2006.0" x2="1832.0" y2="2018.4" stroke="#000000" stroke-width="6.0" stroke-linecap="round"/>
<line x1="2235.8" y1="2006.0" x2="2235.8" y2="2018.4" stroke="#000000" stroke-width="6.0" stroke-linecap="round"/>
<line x1="418.7" y1="2006.0" x2="418.7" y2="2011.0" stroke="#000000" stroke-width="6.0" stroke-linecap="round"/>
<line x1="822.5" y1="2006.0" x2="822.5" y2="2011.0" stroke="#000000" stroke-width="6.0" stroke-linecap="round"/>
<line x1="1226.3" y1="2006.0" x2="1226.3" y2="2011.0" stroke="#000000" stroke-width="6.0" stroke-linecap="round"/>
<line x1="1630.1" y1="2006.0" x2="1630.1" y2="2011.0" stroke="#000000" stroke-width="6.0" stroke-linecap="round"/>
<line x1="2033.9" y1="2006.0" x2="2033.9" y2="2011.0" stroke="#000000" stroke-width="6.0" stroke-linecap="round"/>
<text x="194.1" y="1179.4" font-size="64.5" text-anchor="end">6</text>
<text x="194.7" y="1319.7" font-size="64.5" text-anchor="end">0</text>
<text x="194.1" y="1460.1" font-size="64.5" text-anchor="end">6</text>
<text x="141.3" y="1460.1" font-size="64.5" textLength="20.4" lengthAdjust="spacingAndGlyphs">–</text>
<text x="195.7" y="1600.4" font-size="64.5" text-anchor="end">12</text>
<text x="113.6" y="1600.4" font-size="64.5" textLength="20.4" lengthAdjust="spacingAndGlyphs">–</text>
<text x="194.7" y="1740.7" font-size="64.5" text-anchor="end">18</text>
<text x="112.5" y="1740.7" font-size="64.5" textLength="20.4" lengthAdjust="spacingAndGlyphs">–</text>
<text x="193.2" y="1881.1" font-size="64.5" text-anchor="end">24</text>
<text x="108.3" y="1881.1" font-size="64.5" textLength="20.4" lengthAdjust="spacingAndGlyphs">–</text>
<text x="194.7" y="2021.4" font-size="64.5" text-anchor="end">30</text>
<text x="109.9" y="2021.4" font-size="64.5" textLength="20.4" lengthAdjust="spacingAndGlyphs">–</text>
<text x="216.8" y="2072.3" font-size="64.5" text-anchor="middle">4.0</text>
<text x="620.6" y="2072.3" font-size="64.5" text-anchor="middle">4.4</text>
<text x="1024.4" y="2072.3" font-size="64.5" text-anchor="middle">4.8</text>
<text x="1428.2" y="2072.3" font-size="64.5" text-anchor="middle">5.2</text>
<text x="1832.0" y="2072.3" font-size="64.5" text-anchor="middle">5.6</text>
<text x="2235.8" y="2072.3" font-size="64.5" text-anchor="middle">6.0</text>
<text x="82.8" y="1719.3" font-size="65.0" font-weight="bold" textLength="295.2" lengthAdjust="spacingAndGlyphs" transform="rotate(-90 82.8 1719.3)"><tspan>S</tspan><tspan font-size="36.5" dy="21.0">11</tspan><tspan dy="-21.0">&amp;S</tspan><tspan font-size="36.5" dy="21.0">22</tspan><tspan dy="-21.0">/dB</tspan></text>
<text x="1003.6" y="2146.0" font-size="60.5" font-weight="bold" textLength="445.8" lengthAdjust="spacingAndGlyphs">Frequency/GHz</text>
<text x="1177.6" y="2236.0" font-size="80.0" textLength="92.9" lengthAdjust="spacingAndGlyphs">(b)</text>
<rect x="1938.3" y="1302" width="189.5" height="701" fill="#80FFFF"/>
<line x1="214.6" y1="1444.7" x2="2223.3" y2="1444.7" stroke="#C0C0C0" stroke-width="5.8" stroke-linecap="round" stroke-dasharray="18.8 26.87"/>
<text x="1875.4" y="1983.9" font-size="61.5" textLength="301.7" lengthAdjust="spacingAndGlyphs">5.725–5.875</text>
<path d="M216.8,1309.2 C229.7,1309.7 270.8,1311.2 294.1,1312.3 C317.4,1313.3 335.9,1313.9 356.8,1315.5 C377.7,1317.1 398.7,1319.7 419.6,1321.8 C440.5,1323.9 461.4,1325.9 482.3,1328.0 C503.2,1330.1 524.1,1331.1 545.0,1334.3 C565.9,1337.5 589.5,1343.2 607.8,1346.9 C626.1,1350.6 637.3,1351.9 654.8,1356.3 C672.3,1360.7 692.6,1366.5 712.7,1373.5 C732.8,1380.5 754.6,1390.2 775.5,1398.6 C796.4,1407.0 817.3,1414.8 838.2,1423.7 C859.1,1432.6 880.1,1442.5 901.0,1451.9 C921.9,1461.3 942.8,1470.3 963.7,1480.2 C984.6,1490.1 1005.5,1500.0 1026.4,1511.5 C1047.3,1523.0 1076.0,1541.0 1089.1,1549.2 C1102.2,1557.5 1099.6,1556.9 1104.8,1561.0 C1110.0,1565.1 1110.8,1567.1 1120.4,1573.9 C1130.1,1580.8 1145.2,1589.5 1162.7,1602.1 C1180.2,1614.6 1204.6,1634.5 1225.5,1649.2 C1246.4,1663.9 1267.3,1675.9 1288.2,1690.0 C1309.1,1704.1 1332.3,1719.7 1350.9,1733.9 C1369.5,1748.1 1386.6,1763.7 1400.0,1775.3 C1413.4,1786.9 1421.0,1793.6 1431.4,1803.5 C1441.9,1813.4 1452.2,1823.9 1462.7,1834.9 C1473.2,1845.9 1483.6,1857.9 1494.1,1869.4 C1504.6,1880.9 1515.0,1893.5 1525.5,1903.9 C1536.0,1914.4 1546.3,1925.8 1556.8,1932.1 C1567.2,1938.4 1577.7,1940.7 1588.2,1941.5 C1598.7,1942.3 1607.0,1938.6 1619.6,1936.8 C1632.1,1935.0 1647.8,1930.3 1663.5,1930.6 C1679.2,1930.9 1698.0,1935.5 1713.7,1938.4 C1729.4,1941.3 1744.5,1947.8 1757.6,1947.8 C1770.7,1947.8 1781.1,1944.2 1792.1,1938.4 C1803.1,1932.7 1813.0,1923.8 1823.5,1913.3 C1834.0,1902.8 1846.4,1885.9 1854.8,1875.7 C1863.2,1865.5 1864.6,1863.9 1874.1,1852.1 C1883.6,1840.3 1898.6,1818.5 1911.7,1805.1 C1924.8,1791.7 1940.5,1781.3 1952.5,1771.5 C1964.5,1761.7 1973.7,1754.1 1983.9,1746.4 C1994.1,1738.7 2003.2,1731.6 2013.7,1725.3 C2024.2,1719.0 2033.3,1715.7 2046.6,1708.8 C2059.9,1701.9 2078.0,1692.1 2093.7,1683.7 C2109.4,1675.3 2125.0,1667.5 2140.7,1658.6 C2156.4,1649.7 2174.7,1639.3 2187.8,1630.4 C2200.9,1621.5 2210.9,1612.4 2219.1,1605.3 C2227.3,1598.2 2234.0,1590.9 2237.0,1588.0" fill="none" stroke="#000000" stroke-width="8.0" stroke-linejoin="round" stroke-linecap="butt" clip-path="url(#cb)"/>
<rect x="1089.1" y="1549.2" width="31.4" height="31.4" fill="#000000" clip-path="url(#cb)"/>
<rect x="1998.0" y="1709.9" width="31.4" height="31.4" fill="#000000" clip-path="url(#cb)"/>
<path d="M216.8,1369.7 C234.9,1366.7 286.5,1357.5 325.5,1351.6 C364.5,1345.7 409.2,1339.0 451.0,1334.3 C492.8,1329.6 543.2,1325.6 576.4,1323.3 C609.6,1321.0 629.4,1321.2 650.0,1320.2 C670.6,1319.2 679.1,1318.1 700.0,1317.1 C720.9,1316.0 742.0,1315.0 775.5,1313.9 C809.0,1312.9 859.2,1311.6 901.0,1310.8 C942.8,1310.0 992.4,1309.5 1026.4,1309.2 C1060.4,1308.9 1084.2,1309.0 1104.8,1309.2 C1125.4,1309.4 1129.9,1309.7 1150.0,1310.2 C1170.1,1310.7 1189.4,1311.7 1225.5,1312.3 C1261.6,1312.9 1335.2,1312.6 1366.6,1313.9 C1398.0,1315.2 1400.6,1317.6 1413.7,1320.2 C1426.8,1322.8 1434.5,1325.4 1445.0,1329.6 C1455.5,1333.8 1465.9,1339.0 1476.4,1345.3 C1486.9,1351.6 1497.9,1358.2 1507.8,1367.2 C1517.7,1376.2 1528.5,1389.8 1536.0,1399.0 C1543.5,1408.2 1546.8,1413.6 1552.7,1422.6 C1558.6,1431.5 1565.8,1443.3 1571.5,1452.7 C1577.2,1462.1 1581.9,1470.2 1586.6,1479.0 C1591.3,1487.8 1595.4,1496.0 1599.8,1505.4 C1604.2,1514.8 1608.8,1525.8 1612.9,1535.5 C1617.0,1545.2 1620.4,1554.9 1624.2,1563.7 C1628.0,1572.5 1631.1,1580.7 1635.5,1588.2 C1639.9,1595.7 1645.6,1604.2 1650.6,1608.9 C1655.6,1613.6 1660.6,1616.1 1665.6,1616.4 C1670.6,1616.7 1675.4,1614.5 1680.7,1610.8 C1686.0,1607.0 1691.6,1600.2 1697.6,1593.9 C1703.6,1587.6 1710.2,1580.1 1716.5,1573.2 C1722.8,1566.3 1729.0,1559.1 1735.3,1552.5 C1741.6,1545.9 1747.8,1539.2 1754.1,1533.6 C1760.4,1527.9 1765.1,1523.3 1772.9,1518.6 C1780.7,1513.9 1791.1,1508.8 1801.0,1505.3 C1810.9,1501.8 1821.8,1499.2 1832.3,1497.4 C1842.8,1495.6 1853.2,1494.8 1863.7,1494.3 C1874.2,1493.8 1882.6,1494.0 1895.0,1494.3 C1907.4,1494.5 1926.6,1495.8 1938.3,1495.8 C1950.0,1495.8 1954.7,1495.3 1965.0,1494.5 C1975.3,1493.7 1986.1,1493.1 2000.4,1490.8 C2014.7,1488.5 2033.9,1483.7 2050.6,1480.8 C2067.3,1477.9 2084.1,1475.8 2100.8,1473.3 C2117.5,1470.8 2134.2,1467.4 2150.9,1465.7 C2167.6,1464.0 2186.8,1463.7 2201.1,1463.2 C2215.4,1462.7 2231.0,1462.8 2237.0,1462.7" fill="none" stroke="#FF0000" stroke-width="8.0" stroke-linejoin="round" stroke-linecap="butt" clip-path="url(#cb)"/>
<circle cx="1104.8" cy="1309.0" r="17.2" fill="#FF0000" clip-path="url(#cb)"/>
<circle cx="2014.0" cy="1490.7" r="17.2" fill="#FF0000" clip-path="url(#cb)"/>
<path d="M216.8,1312.3 C226.0,1312.6 253.0,1313.4 272.1,1313.9 C291.2,1314.4 311.3,1315.0 331.7,1315.5 C352.1,1316.0 375.1,1316.6 394.5,1317.1 C413.9,1317.6 430.0,1318.0 447.8,1318.6 C465.6,1319.2 482.3,1319.9 501.1,1320.8 C519.9,1321.7 541.9,1322.6 560.7,1324.0 C579.5,1325.4 596.5,1327.0 614.0,1329.0 C631.5,1331.0 649.3,1333.2 665.8,1335.9 C682.2,1338.6 697.0,1342.2 712.7,1345.3 C728.4,1348.4 744.1,1351.0 759.8,1354.7 C775.5,1358.4 791.1,1362.5 806.8,1367.2 C822.5,1371.9 838.2,1377.7 853.9,1382.9 C869.6,1388.1 885.2,1392.3 900.9,1398.6 C916.6,1404.9 932.3,1412.8 948.0,1420.6 C963.7,1428.4 979.9,1437.3 995.0,1445.7 C1010.1,1454.1 1024.2,1462.5 1038.9,1470.8 C1053.6,1479.1 1071.9,1489.3 1082.9,1495.8 C1093.9,1502.3 1095.2,1504.2 1104.8,1510.0 C1114.4,1515.8 1129.0,1524.6 1140.8,1530.4 C1152.5,1536.2 1161.7,1540.5 1175.3,1545.0 C1188.9,1549.5 1205.0,1554.3 1222.3,1557.5 C1239.5,1560.7 1260.5,1563.8 1278.8,1564.3 C1297.1,1564.8 1314.3,1562.5 1332.1,1560.5 C1349.9,1558.5 1367.6,1554.8 1385.4,1552.5 C1403.2,1550.2 1420.0,1548.4 1438.8,1546.6 C1457.6,1544.8 1480.7,1542.7 1498.4,1541.9 C1516.1,1541.2 1532.4,1541.6 1545.2,1542.1 C1558.0,1542.6 1565.6,1543.8 1575.3,1544.9 C1585.0,1546.0 1593.8,1547.1 1603.5,1548.7 C1613.2,1550.3 1624.5,1552.6 1633.6,1554.3 C1642.7,1556.0 1650.1,1557.2 1658.1,1559.0 C1666.1,1560.8 1673.8,1563.1 1681.6,1565.3 C1689.4,1567.5 1697.5,1569.0 1705.2,1572.2 C1712.9,1575.4 1719.9,1580.3 1727.7,1584.4 C1735.5,1588.5 1744.4,1592.2 1752.2,1596.7 C1760.0,1601.2 1767.5,1605.8 1774.8,1611.7 C1782.0,1617.6 1788.3,1625.0 1795.7,1632.0 C1803.1,1639.0 1812.4,1646.6 1819.2,1653.9 C1826.0,1661.2 1830.8,1668.6 1836.5,1675.9 C1842.2,1683.2 1848.5,1690.2 1853.7,1697.8 C1858.9,1705.4 1862.8,1712.9 1867.8,1721.3 C1872.8,1729.7 1878.5,1738.6 1883.5,1748.0 C1888.5,1757.4 1893.4,1768.5 1897.6,1777.8 C1901.8,1787.0 1904.7,1794.2 1908.6,1803.5 C1912.5,1812.8 1917.3,1823.9 1921.2,1833.3 C1925.1,1842.7 1928.2,1850.8 1932.1,1860.0 C1936.0,1869.2 1940.2,1879.3 1944.7,1888.2 C1949.2,1897.1 1954.2,1906.0 1958.8,1913.3 C1963.3,1920.6 1967.1,1930.0 1972.0,1932.0 C1976.9,1934.0 1981.0,1929.2 1988.0,1925.0 C1995.0,1920.8 2003.4,1916.3 2013.7,1907.0 C2024.0,1897.7 2040.4,1879.3 2049.8,1869.4 C2059.2,1859.5 2063.4,1853.9 2070.2,1847.4 C2077.0,1840.9 2083.4,1837.1 2090.5,1830.2 C2097.6,1823.3 2105.7,1813.4 2112.5,1806.0 C2119.3,1798.6 2125.3,1792.6 2131.3,1785.6 C2137.3,1778.5 2142.6,1770.2 2148.6,1763.7 C2154.6,1757.2 2161.1,1753.5 2167.4,1746.4 C2173.7,1739.3 2179.1,1729.7 2186.2,1721.3 C2193.2,1712.9 2202.1,1704.3 2209.7,1696.2 C2217.3,1688.1 2227.1,1677.6 2231.7,1672.7 C2236.2,1667.8 2236.1,1668.0 2237.0,1667.0" fill="none" stroke="#0078FF" stroke-width="8.0" stroke-linejoin="round" stroke-linecap="round" stroke-dasharray="22.5 30.5 22.5 38.9 22.5 40.4 22.5 28.9 22.5 32.7 22.5 34.7 22.5 34.2 22.5 28.9 22.5 28.8 22.5 25.4 22.5 23.5 22.5 26.9 22.5 30.7 22.5 29.0 22.5 29.5 22.5 29.9 22.5 28.5 22.5 29.5 22.5 29.5 22.5 25.1 22.5 31.9 22.5 34.6 22.5 27.2 22.5 32.2 22.5 36.8 22.5 40.0 22.5 36.2 22.5 33.1 22.5 26.4 22.5 30.5 22.5 33.8 22.5 37.6 22.5 32.8 22.5 41.5 22.5 37.8 22.5 37.2 22.5 38.9 22.5 38.6 22.5 38.6 22.5 36.8 22.5 33.2 22.5 34.4 22.5 30.5 22.5 30.5 22.5 4391.1" stroke-dashoffset="10.72" clip-path="url(#cb)"/>
<rect x="1089.1" y="1495.8" width="31.4" height="31.4" fill="#0078FF" clip-path="url(#cb)"/>
<rect x="1998.0" y="1891.3" width="31.4" height="31.4" fill="#0078FF" clip-path="url(#cb)"/>
<path d="M216.8,1346.9 C224.5,1346.4 245.1,1344.8 262.7,1343.7 C280.3,1342.7 303.5,1341.4 322.3,1340.6 C341.1,1339.8 356.9,1339.4 375.7,1339.0 C394.5,1338.6 415.4,1338.4 435.3,1338.4 C455.2,1338.4 476.1,1338.1 494.9,1339.0 C513.7,1339.9 530.4,1341.9 548.2,1343.7 C566.0,1345.5 584.5,1347.1 601.5,1350.0 C618.5,1352.9 634.6,1356.8 650.0,1361.0 C665.4,1365.2 678.7,1370.7 693.9,1375.1 C709.1,1379.5 725.8,1386.8 741.0,1387.6 C756.2,1388.4 769.8,1384.8 784.9,1379.8 C800.0,1374.8 816.2,1363.5 831.9,1357.8 C847.6,1352.0 862.3,1348.9 879.0,1345.3 C895.7,1341.7 913.0,1338.5 932.3,1335.9 C951.6,1333.3 974.1,1330.9 995.0,1329.6 C1015.9,1328.3 1039.5,1328.3 1057.8,1328.0 C1076.1,1327.7 1086.3,1327.2 1104.8,1327.5 C1123.3,1327.8 1148.9,1328.7 1169.0,1329.6 C1189.1,1330.5 1208.2,1331.1 1225.5,1332.7 C1242.8,1334.3 1256.8,1335.8 1272.5,1339.0 C1288.2,1342.2 1304.4,1345.3 1319.6,1351.6 C1334.8,1357.9 1350.4,1366.8 1363.5,1376.7 C1376.6,1386.6 1390.2,1401.3 1398.0,1411.2 C1405.8,1421.1 1406.3,1427.3 1410.5,1436.2 C1414.7,1445.1 1419.4,1455.1 1423.1,1464.5 C1426.8,1473.9 1429.6,1483.3 1432.5,1492.7 C1435.4,1502.1 1438.0,1511.0 1440.3,1520.9 C1442.6,1530.8 1444.6,1543.3 1446.6,1552.3 C1448.5,1561.3 1450.1,1567.0 1452.0,1575.0 C1453.9,1583.0 1455.8,1587.9 1458.0,1600.0 C1460.2,1612.1 1463.5,1634.9 1465.4,1647.6 C1467.3,1660.2 1468.1,1665.6 1469.5,1675.9 C1470.9,1686.2 1472.5,1699.0 1473.7,1709.4 C1474.9,1719.9 1475.4,1728.1 1476.4,1738.6 C1477.5,1749.0 1478.6,1762.1 1480.0,1772.1 C1481.4,1782.1 1483.2,1788.8 1484.7,1798.8 C1486.2,1808.8 1485.6,1826.8 1489.0,1832.4 C1492.4,1838.0 1501.4,1838.3 1505.1,1832.4 C1508.8,1826.5 1509.8,1807.8 1511.4,1797.2 C1513.0,1786.6 1512.9,1779.2 1514.5,1769.0 C1516.1,1758.8 1519.2,1746.3 1520.8,1736.1 C1522.4,1725.9 1522.4,1717.8 1523.9,1707.8 C1525.4,1697.8 1527.7,1685.9 1529.7,1675.9 C1531.7,1665.9 1533.9,1657.8 1536.0,1647.6 C1538.1,1637.4 1539.7,1624.9 1542.3,1614.7 C1544.9,1604.5 1548.8,1595.6 1551.7,1586.5 C1554.7,1577.4 1556.1,1568.7 1560.0,1560.0 C1563.9,1551.3 1569.8,1542.9 1575.3,1534.6 C1580.8,1526.3 1587.1,1516.8 1593.2,1510.1 C1599.3,1503.3 1605.0,1499.8 1612.0,1494.1 C1619.0,1488.4 1627.0,1481.1 1635.5,1476.2 C1644.0,1471.3 1654.2,1467.9 1662.8,1464.9 C1671.4,1461.9 1679.0,1460.0 1687.3,1458.3 C1695.6,1456.6 1703.1,1455.5 1712.7,1454.6 C1722.3,1453.7 1734.4,1452.7 1744.7,1452.7 C1755.0,1452.7 1762.8,1453.4 1774.8,1454.6 C1786.8,1455.8 1801.8,1457.4 1816.6,1459.8 C1831.4,1462.2 1847.5,1466.1 1863.7,1469.2 C1879.9,1472.3 1899.5,1476.0 1913.9,1478.6 C1928.3,1481.2 1939.6,1483.0 1950.2,1484.6 C1960.8,1486.2 1967.2,1487.3 1977.8,1488.3 C1988.4,1489.3 1999.8,1490.0 2014.0,1490.7 C2028.2,1491.5 2049.5,1492.5 2063.1,1492.8 C2076.7,1493.1 2081.5,1492.8 2095.7,1492.8 C2109.9,1492.8 2134.6,1493.0 2148.4,1492.8 C2162.2,1492.6 2168.0,1492.0 2178.5,1491.6 C2189.0,1491.2 2201.4,1490.8 2211.2,1490.3 C2220.9,1489.8 2232.7,1489.0 2237.0,1488.8" fill="none" stroke="#00FF00" stroke-width="8.0" stroke-linejoin="round" stroke-linecap="round" stroke-dasharray="21.5 31.5 21.5 36.6 21.5 37.5 21.5 36.9 21.5 35.7 21.5 32.1 21.5 32.3 21.5 28.3 21.5 27.6 21.5 28.4 21.5 24.6 21.5 28.0 21.5 27.7 21.5 30.9 21.5 39.9 21.5 39.6 21.5 37.5 21.5 37.5 21.5 30.0 21.5 31.4 21.5 26.8 21.5 29.0 21.5 35.7 21.5 41.3 21.5 38.3 21.5 43.1 21.5 41.7 21.5 41.6 21.5 40.0 21.5 39.9 21.5 34.8 21.5 38.8 21.5 40.2 21.5 41.0 21.5 37.3 21.5 37.3 21.5 32.8 21.5 32.8 21.5 36.9 21.5 35.2 21.5 31.1 21.5 27.6 21.5 28.4 21.5 35.1 21.5 35.1 21.5 37.6 21.5 34.8 21.5 31.5 21.5 31.5 21.5 4693.0" stroke-dashoffset="19.25" clip-path="url(#cb)"/>
<circle cx="1104.8" cy="1327.2" r="17.4" fill="#00FF00" clip-path="url(#cb)"/>
<circle cx="2014.0" cy="1490.7" r="17.4" fill="#00FF00" clip-path="url(#cb)"/>
<path d="M216.8,1374.2 C234.9,1376.1 286.5,1381.5 325.5,1385.7 C364.5,1389.9 409.2,1394.3 451.0,1399.3 C492.8,1404.3 541.4,1411.2 576.4,1415.5 C611.4,1419.8 627.9,1420.8 661.1,1425.0 C694.3,1429.2 735.5,1435.2 775.5,1441.0 C815.5,1446.8 859.2,1453.5 901.0,1459.8 C942.8,1466.1 990.6,1472.4 1026.4,1478.6 C1062.2,1484.8 1082.5,1491.0 1115.7,1497.0 C1148.9,1503.0 1186.3,1508.4 1225.5,1514.7 C1264.7,1521.0 1309.2,1528.8 1351.0,1535.1 C1392.8,1541.4 1440.0,1547.5 1476.4,1552.3 C1512.8,1557.1 1540.6,1560.2 1569.6,1563.7 C1598.6,1567.2 1624.5,1570.7 1650.6,1573.2 C1676.6,1575.7 1702.7,1577.1 1725.9,1578.8 C1749.1,1580.5 1765.3,1582.2 1790.0,1583.5 C1814.7,1584.8 1844.4,1586.0 1874.1,1586.5 C1903.8,1587.0 1943.2,1586.8 1968.2,1586.5 C1993.2,1586.2 2003.1,1586.0 2024.0,1584.9 C2044.9,1583.9 2071.6,1581.8 2093.7,1580.2 C2115.8,1578.6 2132.5,1577.1 2156.4,1575.5 C2180.3,1573.9 2223.6,1571.6 2237.0,1570.8" fill="none" stroke="#8000FF" stroke-width="8.0" stroke-linejoin="round" stroke-linecap="butt" clip-path="url(#cb)"/>
<polygon points="206.8,1349.0 186.1,1385.0 227.6,1385.0" fill="#8000FF" clip-path="url(#cb)"/>
<polygon points="661.1,1401.7 640.4,1437.8 681.9,1437.8" fill="#8000FF" clip-path="url(#cb)"/>
<polygon points="1115.7,1472.3 1095.0,1508.4 1136.5,1508.4" fill="#8000FF" clip-path="url(#cb)"/>
<polygon points="1569.5,1542.1 1548.8,1576.9 1590.2,1576.9" fill="#8000FF" clip-path="url(#cb)"/>
<polygon points="2024.0,1562.0 2003.2,1598.1 2044.8,1598.1" fill="#8000FF" clip-path="url(#cb)"/>
<line x1="271.0" y1="1149.7" x2="435.6" y2="1149.7" stroke="#000000" stroke-width="7.8" stroke-linecap="round"/>
<rect x="337.6" y="1134.6" width="31.4" height="31.4" fill="#000000"/>
<line x1="651.2" y1="1149.4" x2="815.8" y2="1149.4" stroke="#0078FF" stroke-width="7.8" stroke-linecap="round" stroke-dasharray="24.5 32.5"/>
<rect x="717.8" y="1134.3" width="31.4" height="31.4" fill="#0078FF"/>
<line x1="1045.5" y1="1149.9" x2="1209.0" y2="1149.9" stroke="#8000FF" stroke-width="7.8" stroke-linecap="round"/>
<polygon points="1127.2,1127.5 1106.3,1163.7 1148.2,1163.7" fill="#8000FF"/>
<line x1="271.0" y1="1256.9" x2="435.6" y2="1256.9" stroke="#FF0000" stroke-width="7.8" stroke-linecap="round"/>
<circle cx="353.3" cy="1256.9" r="17.0" fill="#FF0000"/>
<line x1="651.2" y1="1256.6" x2="815.8" y2="1256.6" stroke="#00FF00" stroke-width="7.8" stroke-linecap="round" stroke-dasharray="24.5 32.5"/>
<circle cx="733.5" cy="1256.6" r="17.0" fill="#00FF00"/>
<text x="451.9" y="1174.5" font-size="65.0" textLength="147.7" lengthAdjust="spacingAndGlyphs">sim.S</text>
<text x="599.7" y="1195.3" font-size="36.0" textLength="32.8" lengthAdjust="spacingAndGlyphs">11</text>
<text x="828.8" y="1174.5" font-size="65.0" textLength="165.4" lengthAdjust="spacingAndGlyphs">mea.S</text>
<text x="994.3" y="1195.3" font-size="36.0" textLength="33.6" lengthAdjust="spacingAndGlyphs">11</text>
<text x="1225.8" y="1174.5" font-size="65.0" textLength="143.6" lengthAdjust="spacingAndGlyphs">ads.S</text>
<text x="1368.1" y="1195.3" font-size="36.0" textLength="34.7" lengthAdjust="spacingAndGlyphs">11</text>
<text x="1405.5" y="1174.5" font-size="65.0" textLength="81.5" lengthAdjust="spacingAndGlyphs">&amp;S</text>
<text x="1485.4" y="1195.3" font-size="36.0" textLength="37.1" lengthAdjust="spacingAndGlyphs">22</text>
<text x="451.9" y="1281.7" font-size="65.0" textLength="147.7" lengthAdjust="spacingAndGlyphs">sim.S</text>
<text x="599.7" y="1302.5" font-size="36.0" textLength="35.4" lengthAdjust="spacingAndGlyphs">22</text>
<text x="828.8" y="1281.7" font-size="65.0" textLength="165.4" lengthAdjust="spacingAndGlyphs">mea.S</text>
<text x="994.3" y="1302.5" font-size="36.0" textLength="35.3" lengthAdjust="spacingAndGlyphs">22</text>
<defs><clipPath id="cc"><rect x="226.0" y="2250" width="2041.5" height="872.2"/></clipPath></defs>
<line x1="226.0" y1="2271.0" x2="226.0" y2="3141.2" stroke="#000000" stroke-width="6.0" stroke-linecap="butt"/>
<line x1="223.0" y1="3125.2" x2="2269.0" y2="3125.2" stroke="#000000" stroke-width="6.0" stroke-linecap="butt"/>
<line x1="213.0" y1="2274.0" x2="229.0" y2="2274.0" stroke="#000000" stroke-width="6.0" stroke-linecap="butt"/>
<circle cx="213" cy="2274.0" r="3"/>
<line x1="213.0" y1="2415.9" x2="226.0" y2="2415.9" stroke="#000000" stroke-width="6.0" stroke-linecap="round"/>
<line x1="213.0" y1="2557.7" x2="226.0" y2="2557.7" stroke="#000000" stroke-width="6.0" stroke-linecap="round"/>
<line x1="213.0" y1="2699.6" x2="226.0" y2="2699.6" stroke="#000000" stroke-width="6.0" stroke-linecap="round"/>
<line x1="213.0" y1="2841.5" x2="226.0" y2="2841.5" stroke="#000000" stroke-width="6.0" stroke-linecap="round"/>
<line x1="213.0" y1="2983.3" x2="226.0" y2="2983.3" stroke="#000000" stroke-width="6.0" stroke-linecap="round"/>
<line x1="213.0" y1="3125.2" x2="226.0" y2="3125.2" stroke="#000000" stroke-width="6.0" stroke-linecap="round"/>
<line x1="220.0" y1="2344.9" x2="226.0" y2="2344.9" stroke="#000000" stroke-width="6.0" stroke-linecap="round"/>
<line x1="220.0" y1="2486.8" x2="226.0" y2="2486.8" stroke="#000000" stroke-width="6.0" stroke-linecap="round"/>
<line x1="220.0" y1="2628.7" x2="226.0" y2="2628.7" stroke="#000000" stroke-width="6.0" stroke-linecap="round"/>
<line x1="220.0" y1="2770.5" x2="226.0" y2="2770.5" stroke="#000000" stroke-width="6.0" stroke-linecap="round"/>
<line x1="220.0" y1="2912.4" x2="226.0" y2="2912.4" stroke="#000000" stroke-width="6.0" stroke-linecap="round"/>
<line x1="220.0" y1="3054.3" x2="226.0" y2="3054.3" stroke="#000000" stroke-width="6.0" stroke-linecap="round"/>
<line x1="430.0" y1="3125.2" x2="430.0" y2="3138.0" stroke="#000000" stroke-width="6.0" stroke-linecap="round"/>
<line x1="634.0" y1="3125.2" x2="634.0" y2="3138.0" stroke="#000000" stroke-width="6.0" stroke-linecap="round"/>
<line x1="838.0" y1="3125.2" x2="838.0" y2="3138.0" stroke="#000000" stroke-width="6.0" stroke-linecap="round"/>
<line x1="1042.0" y1="3125.2" x2="1042.0" y2="3138.0" stroke="#000000" stroke-width="6.0" stroke-linecap="round"/>
<line x1="1246.0" y1="3125.2" x2="1246.0" y2="3138.0" stroke="#000000" stroke-width="6.0" stroke-linecap="round"/>
<line x1="1450.0" y1="3125.2" x2="1450.0" y2="3138.0" stroke="#000000" stroke-width="6.0" stroke-linecap="round"/>
<line x1="1654.0" y1="3125.2" x2="1654.0" y2="3138.0" stroke="#000000" stroke-width="6.0" stroke-linecap="round"/>
<line x1="1858.0" y1="3125.2" x2="1858.0" y2="3138.0" stroke="#000000" stroke-width="6.0" stroke-linecap="round"/>
<line x1="2062.0" y1="3125.2" x2="2062.0" y2="3138.0" stroke="#000000" stroke-width="6.0" stroke-linecap="round"/>
<line x1="2266.0" y1="3125.2" x2="2266.0" y2="3138.0" stroke="#000000" stroke-width="6.0" stroke-linecap="round"/>
<line x1="328.0" y1="3125.2" x2="328.0" y2="3131.0" stroke="#000000" stroke-width="6.0" stroke-linecap="round"/>
<line x1="532.0" y1="3125.2" x2="532.0" y2="3131.0" stroke="#000000" stroke-width="6.0" stroke-linecap="round"/>
<line x1="736.0" y1="3125.2" x2="736.0" y2="3131.0" stroke="#000000" stroke-width="6.0" stroke-linecap="round"/>
<line x1="940.0" y1="3125.2" x2="940.0" y2="3131.0" stroke="#000000" stroke-width="6.0" stroke-linecap="round"/>
<line x1="1144.0" y1="3125.2" x2="1144.0" y2="3131.0" stroke="#000000" stroke-width="6.0" stroke-linecap="round"/>
<line x1="1348.0" y1="3125.2" x2="1348.0" y2="3131.0" stroke="#000000" stroke-width="6.0" stroke-linecap="round"/>
<line x1="1552.0" y1="3125.2" x2="1552.0" y2="3131.0" stroke="#000000" stroke-width="6.0" stroke-linecap="round"/>
<line x1="1756.0" y1="3125.2" x2="1756.0" y2="3131.0" stroke="#000000" stroke-width="6.0" stroke-linecap="round"/>
<line x1="1960.0" y1="3125.2" x2="1960.0" y2="3131.0" stroke="#000000" stroke-width="6.0" stroke-linecap="round"/>
<line x1="2164.0" y1="3125.2" x2="2164.0" y2="3131.0" stroke="#000000" stroke-width="6.0" stroke-linecap="round"/>
<text x="203.1" y="2289.3" font-size="63.0" text-anchor="end">0</text>
<text x="203.1" y="2431.2" font-size="63.0" text-anchor="end">10</text>
<text x="122.8" y="2431.2" font-size="63.0" textLength="19.9" lengthAdjust="spacingAndGlyphs">–</text>
<text x="203.1" y="2573.0" font-size="63.0" text-anchor="end">20</text>
<text x="120.0" y="2573.0" font-size="63.0" textLength="19.9" lengthAdjust="spacingAndGlyphs">–</text>
<text x="203.1" y="2714.9" font-size="63.0" text-anchor="end">30</text>
<text x="120.3" y="2714.9" font-size="63.0" textLength="19.9" lengthAdjust="spacingAndGlyphs">–</text>
<text x="203.1" y="2856.8" font-size="63.0" text-anchor="end">40</text>
<text x="118.5" y="2856.8" font-size="63.0" textLength="19.9" lengthAdjust="spacingAndGlyphs">–</text>
<text x="203.1" y="2998.6" font-size="63.0" text-anchor="end">50</text>
<text x="120.9" y="2998.6" font-size="63.0" textLength="19.9" lengthAdjust="spacingAndGlyphs">–</text>
<text x="203.1" y="3140.5" font-size="63.0" text-anchor="end">60</text>
<text x="120.0" y="3140.5" font-size="63.0" textLength="19.9" lengthAdjust="spacingAndGlyphs">–</text>
<text x="226.0" y="3192.2" font-size="63.0" text-anchor="middle">2.0</text>
<text x="430.0" y="3192.2" font-size="63.0" text-anchor="middle">2.4</text>
<text x="634.0" y="3192.2" font-size="63.0" text-anchor="middle">2.8</text>
<text x="838.0" y="3192.2" font-size="63.0" text-anchor="middle">3.2</text>
<text x="1042.0" y="3192.2" font-size="63.0" text-anchor="middle">3.6</text>
<text x="1246.0" y="3192.2" font-size="63.0" text-anchor="middle">4.0</text>
<text x="1450.0" y="3192.2" font-size="63.0" text-anchor="middle">4.4</text>
<text x="1654.0" y="3192.2" font-size="63.0" text-anchor="middle">4.8</text>
<text x="1858.0" y="3192.2" font-size="63.0" text-anchor="middle">5.2</text>
<text x="2062.0" y="3192.2" font-size="63.0" text-anchor="middle">5.6</text>
<text x="2266.0" y="3192.2" font-size="63.0" text-anchor="middle">6.0</text>
<text x="85.8" y="2766.0" font-size="65.5" font-weight="bold" textLength="166.2" lengthAdjust="spacingAndGlyphs" transform="rotate(-90 85.8 2766.0)"><tspan>S</tspan><tspan font-size="37.0" dy="21.0">21</tspan><tspan dy="-21.0">/dB</tspan></text>
<text x="1020.5" y="3278.0" font-size="60.8" font-weight="bold" textLength="449.6" lengthAdjust="spacingAndGlyphs">Frequency/GHz</text>
<text x="1180.6" y="3354.6" font-size="78.7" textLength="86.0" lengthAdjust="spacingAndGlyphs">(c)</text>
<rect x="427.1" y="2416.5" width="49.5" height="705.7" fill="#80FFFF"/>
<rect x="2122.0" y="2416.5" width="86.4" height="705.7" fill="#80FFFF"/>
<line x1="225.8" y1="2415.9" x2="2262.7" y2="2415.9" stroke="#C0C0C0" stroke-width="5.8" stroke-linecap="round" stroke-dasharray="18.5 27.6"/>
<text x="379.4" y="3107.8" font-size="52.0" textLength="203.8" lengthAdjust="spacingAndGlyphs">2.4–2.485</text>
<text x="2012.4" y="3113.0" font-size="52.0" textLength="261.9" lengthAdjust="spacingAndGlyphs">5.725–5.875</text>
<path d="M226.0,2883.5 C228.6,2884.3 236.2,2884.8 241.4,2888.2 C246.6,2891.6 251.9,2897.6 257.1,2903.9 C262.3,2910.2 268.0,2916.4 272.7,2925.8 C277.4,2935.2 281.9,2948.4 285.3,2960.4 C288.7,2972.4 290.8,2986.0 293.1,2998.0 C295.5,3010.0 297.3,3029.9 299.4,3032.5 C301.5,3035.1 303.3,3026.2 305.7,3013.7 C308.1,3001.1 310.9,2977.1 313.5,2957.2 C316.1,2937.3 318.8,2915.4 321.4,2894.5 C324.0,2873.6 326.3,2853.7 329.2,2831.7 C332.1,2809.7 335.5,2782.4 338.6,2762.7 C341.7,2743.0 345.4,2726.0 348.0,2713.7 C350.6,2701.3 352.3,2694.3 354.3,2688.6 C356.3,2682.8 357.8,2678.7 359.9,2679.2 C362.0,2679.7 364.6,2685.9 366.8,2691.7 C369.0,2697.4 370.7,2708.2 373.1,2713.7 C375.5,2719.2 378.4,2724.7 381.0,2724.7 C383.6,2724.7 385.9,2719.7 388.8,2713.7 C391.7,2707.7 394.5,2700.1 398.2,2688.6 C401.9,2677.1 406.6,2661.4 410.8,2644.7 C415.0,2628.0 419.1,2606.5 423.3,2588.2 C427.5,2569.9 431.6,2552.2 435.8,2534.9 C440.0,2517.7 444.2,2499.9 448.4,2484.7 C452.6,2469.5 457.0,2452.8 460.9,2443.9 C464.8,2435.0 468.2,2431.9 471.9,2431.4 C475.6,2430.9 477.9,2434.5 482.9,2440.8 C487.9,2447.1 494.9,2460.9 501.7,2469.0 C508.5,2477.1 515.9,2484.4 523.7,2489.4 C531.6,2494.4 541.0,2495.4 548.8,2498.8 C556.6,2502.2 563.9,2504.3 570.7,2509.8 C577.5,2515.3 583.8,2522.8 589.5,2531.7 C595.2,2540.6 600.5,2552.6 605.2,2563.1 C609.9,2573.6 613.1,2581.9 617.8,2594.5 C622.5,2607.1 628.3,2624.8 633.5,2638.4 C638.7,2652.0 643.9,2663.4 649.1,2676.0 C654.3,2688.6 660.1,2701.7 664.8,2713.7 C669.5,2725.7 674.0,2740.8 677.4,2748.2 C680.8,2755.6 682.9,2753.9 685.2,2758.3 C687.5,2762.8 688.3,2767.4 691.4,2774.9 C694.5,2782.4 700.2,2791.8 703.9,2803.1 C707.5,2814.4 708.6,2826.7 713.3,2842.7 C718.0,2858.7 726.4,2880.9 732.1,2899.2 C737.9,2917.5 743.1,2934.7 747.8,2952.5 C752.5,2970.3 757.0,2987.5 760.4,3005.8 C763.8,3024.1 765.3,3043.0 768.2,3062.3 C771.1,3081.7 775.1,3104.0 777.6,3121.9 C780.1,3139.8 781.2,3170.0 783.0,3170.0 C784.8,3170.0 786.1,3139.8 788.6,3121.9 C791.1,3104.0 794.3,3081.7 798.0,3062.3 C801.7,3043.0 805.9,3022.5 810.6,3005.8 C815.3,2989.1 820.5,2975.5 826.2,2961.9 C832.0,2948.3 838.8,2934.5 845.1,2924.3 C851.4,2914.1 855.5,2907.6 863.9,2900.8 C872.3,2894.0 882.2,2892.1 895.3,2883.5 C908.4,2874.9 926.6,2859.4 942.3,2849.0 C958.0,2838.6 978.9,2827.4 989.4,2820.8 C999.9,2814.2 994.5,2815.5 1005.0,2809.4 C1015.5,2803.3 1036.4,2792.7 1052.1,2784.3 C1067.8,2775.9 1086.5,2765.5 1099.1,2759.2 C1111.6,2752.9 1119.9,2749.5 1127.4,2746.6 C1134.9,2743.7 1135.4,2744.7 1143.9,2741.5 C1152.4,2738.3 1164.8,2731.7 1178.4,2727.2 C1192.0,2722.7 1207.2,2718.6 1225.5,2714.7 C1243.8,2710.8 1267.3,2706.6 1288.2,2703.7 C1309.1,2700.8 1330.0,2699.0 1350.9,2697.4 C1371.8,2695.8 1392.8,2694.7 1413.7,2694.3 C1434.6,2693.9 1455.5,2693.6 1476.4,2694.9 C1497.3,2696.2 1520.8,2699.8 1539.1,2702.1 C1557.4,2704.4 1575.5,2707.3 1586.1,2709.0 C1596.7,2710.7 1597.1,2711.3 1602.6,2712.4 C1608.1,2713.5 1609.5,2712.2 1619.0,2715.3 C1628.5,2718.4 1646.2,2725.2 1659.8,2731.0 C1673.4,2736.8 1687.5,2742.0 1700.6,2749.8 C1713.7,2757.6 1726.7,2768.1 1738.2,2778.0 C1749.7,2787.9 1761.9,2798.7 1769.6,2809.4 C1777.3,2820.1 1779.7,2830.9 1784.5,2842.1 C1789.3,2853.3 1794.3,2865.7 1798.3,2876.6 C1802.3,2887.5 1805.2,2899.1 1808.7,2907.7 C1812.2,2916.3 1815.5,2927.8 1819.0,2928.4 C1822.5,2929.0 1826.5,2921.4 1829.4,2911.1 C1832.3,2900.8 1834.0,2881.2 1836.3,2866.3 C1838.6,2851.4 1840.7,2833.5 1843.2,2821.4 C1845.7,2809.3 1847.7,2807.2 1851.1,2793.7 C1854.5,2780.2 1859.2,2758.0 1863.7,2740.4 C1868.2,2722.8 1873.4,2702.8 1878.2,2688.0 C1883.0,2673.2 1887.6,2662.1 1892.3,2651.3 C1897.0,2640.5 1901.3,2631.9 1906.5,2623.0 C1911.7,2614.1 1917.8,2605.3 1923.4,2597.6 C1929.0,2589.8 1933.7,2583.1 1940.3,2576.5 C1946.9,2569.9 1954.4,2563.0 1962.9,2558.1 C1971.4,2553.2 1981.8,2549.4 1991.2,2546.8 C2000.6,2544.2 2007.7,2543.8 2019.4,2542.6 C2031.2,2541.4 2049.9,2540.0 2061.7,2539.8 C2073.5,2539.6 2080.6,2540.0 2090.0,2541.2 C2099.4,2542.4 2108.8,2544.2 2118.2,2546.8 C2127.6,2549.4 2137.0,2553.2 2146.4,2556.7 C2155.8,2560.2 2165.3,2564.5 2174.7,2568.0 C2184.1,2571.5 2193.5,2575.2 2202.9,2577.9 C2212.3,2580.6 2220.2,2582.9 2231.1,2584.1 C2241.9,2585.3 2261.8,2584.8 2268.0,2584.9" fill="none" stroke="#000000" stroke-width="7.9" stroke-linejoin="round" stroke-linecap="butt" clip-path="url(#cc)"/>
<rect x="210.3" y="2867.8" width="31.4" height="31.4" fill="#000000" clip-path="url(#cc)"/>
<rect x="669.5" y="2742.6" width="31.4" height="31.4" fill="#000000" clip-path="url(#cc)"/>
<rect x="1128.3" y="2725.8" width="31.4" height="31.4" fill="#000000" clip-path="url(#cc)"/>
<rect x="1586.9" y="2696.7" width="31.4" height="31.4" fill="#000000" clip-path="url(#cc)"/>
<rect x="2046.1" y="2524.3" width="31.4" height="31.4" fill="#000000" clip-path="url(#cc)"/>
<path d="M226.0,2772.8 C229.2,2772.5 239.3,2772.2 245.0,2771.0 C250.7,2769.8 256.6,2770.9 260.2,2765.9 C263.8,2760.9 264.9,2750.6 266.5,2740.8 C268.1,2731.1 268.3,2718.2 269.6,2707.4 C270.9,2696.6 273.0,2686.4 274.3,2676.0 C275.6,2665.6 276.1,2654.9 277.4,2644.7 C278.7,2634.5 280.5,2625.4 282.1,2614.9 C283.7,2604.4 285.1,2592.1 286.9,2581.9 C288.7,2571.7 290.8,2562.8 293.1,2553.7 C295.5,2544.5 295.5,2533.3 301.0,2527.0 C306.5,2520.7 318.3,2520.0 326.1,2516.1 C333.9,2512.2 340.4,2506.7 348.0,2503.5 C355.6,2500.3 363.1,2498.8 371.5,2497.2 C379.9,2495.6 389.8,2495.1 398.2,2494.1 C406.6,2493.1 413.6,2491.3 421.7,2491.0 C429.8,2490.7 439.2,2490.4 446.8,2492.5 C454.4,2494.6 459.6,2499.3 467.2,2503.5 C474.8,2507.7 484.2,2516.3 492.3,2517.6 C500.4,2518.9 508.7,2509.8 515.8,2511.4 C522.9,2513.0 529.5,2520.5 534.7,2527.0 C539.9,2533.5 543.8,2540.9 547.2,2550.6 C550.6,2560.3 552.9,2574.4 555.0,2585.1 C557.1,2595.8 558.4,2604.4 559.7,2614.9 C561.0,2625.4 561.9,2637.6 562.9,2647.8 C563.9,2658.0 564.9,2665.3 566.0,2676.0 C567.1,2686.7 568.0,2707.0 569.5,2712.0 C571.0,2717.0 573.0,2708.1 575.0,2706.0 C577.0,2703.9 579.5,2705.6 581.7,2699.6 C583.9,2693.6 584.6,2678.2 588.0,2669.8 C591.4,2661.4 598.1,2653.9 602.1,2649.4 C606.1,2644.9 608.1,2642.0 612.0,2643.0 C615.9,2644.0 620.5,2651.4 625.6,2655.6 C630.8,2659.8 636.9,2663.2 642.9,2668.2 C648.9,2673.2 654.7,2679.5 661.7,2685.4 C668.7,2691.3 679.1,2697.5 685.1,2703.5 C691.1,2709.5 693.4,2714.8 697.6,2721.5 C701.8,2728.2 705.8,2735.7 710.2,2743.5 C714.7,2751.3 718.3,2762.8 724.3,2768.6 C730.3,2774.3 739.0,2773.8 746.3,2778.0 C753.6,2782.2 762.2,2787.7 768.2,2793.7 C774.2,2799.7 778.2,2810.0 782.3,2814.1 C786.4,2818.2 789.3,2819.6 793.0,2818.0 C796.7,2816.4 800.3,2810.6 804.3,2804.7 C808.3,2798.8 810.0,2788.4 816.8,2782.7 C823.6,2776.9 837.8,2774.6 845.1,2770.2 C852.4,2765.8 856.1,2762.5 860.8,2756.0 C865.5,2749.5 869.4,2738.8 873.3,2731.0 C877.2,2723.2 879.1,2715.3 884.3,2709.0 C889.5,2702.7 897.7,2697.5 904.7,2693.3 C911.8,2689.1 920.1,2688.9 926.6,2683.9 C933.1,2678.9 937.6,2669.0 943.9,2663.5 C950.2,2658.0 957.2,2654.9 964.3,2651.0 C971.3,2647.1 977.8,2642.1 986.2,2640.0 C994.6,2637.9 1006.1,2637.9 1014.5,2638.4 C1022.9,2638.9 1028.8,2641.8 1036.4,2643.1 C1044.0,2644.4 1052.6,2643.1 1059.9,2646.2 C1067.2,2649.3 1074.0,2656.4 1080.3,2661.9 C1086.6,2667.4 1090.8,2675.0 1097.6,2679.2 C1104.4,2683.4 1113.4,2682.9 1121.1,2687.0 C1128.8,2691.1 1137.5,2699.1 1143.9,2703.7 C1150.3,2708.3 1153.3,2710.8 1159.6,2714.7 C1165.9,2718.6 1174.8,2722.5 1181.6,2727.2 C1188.4,2731.9 1193.9,2737.4 1200.4,2742.9 C1206.9,2748.4 1213.2,2756.8 1220.8,2760.2 C1228.4,2763.6 1238.6,2761.0 1245.9,2763.3 C1253.2,2765.7 1259.0,2768.0 1264.7,2774.3 C1270.5,2780.6 1274.7,2794.5 1280.4,2801.0 C1286.2,2807.5 1291.4,2810.9 1299.2,2813.5 C1307.0,2816.1 1319.8,2812.4 1327.4,2816.6 C1335.0,2820.8 1340.0,2830.5 1344.7,2838.6 C1349.4,2846.7 1350.9,2857.1 1355.6,2865.2 C1360.3,2873.3 1366.4,2882.0 1372.9,2887.2 C1379.5,2892.4 1390.1,2894.6 1394.9,2896.6 C1399.8,2898.6 1399.4,2903.2 1402.0,2899.0 C1404.6,2894.8 1407.0,2880.0 1410.5,2871.5 C1414.0,2863.0 1419.4,2857.7 1423.1,2848.0 C1426.8,2838.3 1429.4,2823.4 1432.5,2813.5 C1435.6,2803.6 1438.8,2797.8 1441.9,2788.4 C1445.0,2779.0 1448.2,2766.7 1451.3,2757.0 C1454.4,2747.3 1457.6,2740.6 1460.7,2730.4 C1463.8,2720.2 1466.7,2705.8 1470.1,2695.9 C1473.5,2686.0 1477.4,2679.7 1481.1,2670.8 C1484.8,2661.9 1488.2,2650.6 1492.1,2642.5 C1496.0,2634.4 1499.1,2628.4 1504.6,2622.1 C1510.1,2615.8 1518.2,2609.3 1525.0,2604.9 C1531.8,2600.5 1538.2,2599.1 1545.4,2595.5 C1552.6,2591.9 1558.5,2582.8 1568.0,2583.5 C1577.5,2584.2 1594.1,2596.9 1602.6,2599.5 C1611.1,2602.1 1613.4,2599.9 1619.0,2599.2 C1624.6,2598.5 1629.8,2594.9 1636.3,2595.4 C1642.8,2595.9 1651.4,2599.5 1658.2,2602.3 C1665.0,2605.1 1669.4,2610.2 1677.0,2612.4 C1684.6,2614.6 1695.9,2613.8 1703.7,2615.5 C1711.5,2617.2 1717.3,2619.1 1724.1,2622.7 C1730.9,2626.2 1736.9,2632.4 1744.5,2636.8 C1752.1,2641.2 1762.0,2645.5 1769.6,2649.4 C1777.2,2653.3 1783.7,2656.0 1790.0,2660.4 C1796.3,2664.8 1802.0,2669.2 1807.2,2676.0 C1812.4,2682.8 1816.8,2692.2 1821.3,2701.1 C1825.8,2710.0 1830.5,2719.5 1833.9,2729.4 C1837.3,2739.3 1838.8,2750.8 1841.7,2760.7 C1844.6,2770.6 1848.4,2782.3 1851.1,2789.0 C1853.8,2795.7 1855.4,2801.3 1858.0,2801.0 C1860.6,2800.7 1864.0,2794.4 1866.8,2787.4 C1869.6,2780.4 1872.6,2769.1 1874.7,2759.2 C1876.8,2749.3 1877.1,2737.5 1879.4,2727.8 C1881.8,2718.1 1885.9,2710.0 1888.8,2701.1 C1891.7,2692.2 1893.5,2682.6 1896.6,2674.5 C1899.7,2666.4 1903.1,2659.8 1907.6,2652.5 C1912.0,2645.2 1917.5,2636.9 1923.3,2630.6 C1929.0,2624.3 1935.6,2619.5 1942.1,2614.9 C1948.6,2610.3 1954.9,2606.9 1962.5,2603.0 C1970.1,2599.1 1979.2,2594.4 1987.6,2591.4 C1996.0,2588.4 2004.9,2587.2 2012.7,2585.1 C2020.5,2583.0 2026.4,2580.3 2034.6,2578.8 C2042.8,2577.3 2053.5,2575.9 2061.8,2576.2 C2070.1,2576.5 2076.8,2578.1 2084.3,2580.7 C2091.8,2583.3 2100.1,2587.5 2106.9,2592.0 C2113.7,2596.5 2119.7,2600.7 2125.3,2607.5 C2131.0,2614.3 2136.1,2624.9 2140.8,2632.9 C2145.5,2640.9 2149.5,2647.5 2153.5,2655.5 C2157.5,2663.5 2161.0,2672.2 2164.8,2680.9 C2168.6,2689.6 2172.8,2698.0 2176.1,2707.7 C2179.4,2717.3 2181.8,2728.9 2184.6,2738.8 C2187.4,2748.7 2190.7,2757.0 2193.0,2767.0 C2195.3,2777.0 2196.8,2789.9 2198.6,2799.0 C2200.4,2808.1 2202.4,2811.1 2203.8,2821.4 C2205.2,2831.8 2206.0,2849.6 2207.2,2861.1 C2208.3,2872.6 2209.5,2879.8 2210.7,2890.4 C2211.8,2901.0 2212.9,2914.6 2214.1,2924.9 C2215.2,2935.2 2216.7,2942.2 2217.6,2952.5 C2218.5,2962.8 2218.4,2978.1 2219.3,2987.0 C2220.2,2995.9 2222.0,3000.8 2223.2,3006.0 C2224.4,3011.2 2225.4,3018.7 2226.3,3018.0 C2227.2,3017.3 2227.8,3008.9 2228.4,3002.0 C2229.0,2995.1 2229.0,2985.5 2229.8,2976.7 C2230.6,2967.9 2232.0,2960.0 2233.1,2949.1 C2234.2,2938.2 2235.3,2921.4 2236.5,2911.1 C2237.7,2900.8 2238.8,2897.1 2240.0,2887.0 C2241.2,2876.9 2242.0,2861.3 2243.4,2850.7 C2244.8,2840.0 2246.3,2833.1 2248.6,2823.1 C2250.9,2813.1 2254.5,2799.8 2257.2,2790.4 C2259.9,2781.1 2263.2,2772.4 2265.0,2767.0 C2266.8,2761.6 2267.5,2759.5 2268.0,2758.0" fill="none" stroke="#0000FF" stroke-width="7.9" stroke-linejoin="round" stroke-linecap="round" stroke-dasharray="20.6 28.4 20.6 39.5 20.6 42.6 20.6 42.9 20.6 36.4 20.6 32.3 20.6 30.7 20.6 28.4 20.6 31.6 20.6 29.1 20.6 41.6 20.6 42.6 20.6 42.6 20.6 31.8 20.6 35.5 20.6 26.3 20.6 31.0 20.6 33.7 20.6 30.5 20.6 34.1 20.6 36.0 20.6 28.7 20.6 29.9 20.6 28.9 20.6 28.6 20.6 29.8 20.6 29.6 20.6 28.8 20.6 28.1 20.6 28.1 20.6 30.6 20.6 32.3 20.6 8.2 20.6 33.1 20.6 35.6 20.6 40.9 20.6 41.0 20.6 40.6 20.6 43.4 20.6 37.2 20.6 30.2 20.6 27.4 20.6 27.7 20.6 27.7 20.6 27.7 20.6 25.9 20.6 30.7 20.6 31.6 20.6 42.7 20.6 40.2 20.6 40.5 20.6 35.5 20.6 31.0 20.6 27.6 20.6 33.0 20.6 28.7 20.6 28.7 20.6 33.4 20.6 33.1 20.6 40.7 20.6 41.3 20.6 43.1 20.6 41.1 20.6 44.0 20.6 16.5 20.6 16.5 20.6 42.4 20.6 41.0 20.6 42.9 20.6 28.4 20.6 5754.6" stroke-dashoffset="9.83" clip-path="url(#cc)"/>
<rect x="210.3" y="2757.1" width="31.4" height="31.4" fill="#0000FF" clip-path="url(#cc)"/>
<rect x="669.4" y="2687.8" width="31.4" height="31.4" fill="#0000FF" clip-path="url(#cc)"/>
<rect x="1128.2" y="2688.0" width="31.4" height="31.4" fill="#0000FF" clip-path="url(#cc)"/>
<rect x="1586.9" y="2583.8" width="31.4" height="31.4" fill="#0000FF" clip-path="url(#cc)"/>
<rect x="2046.1" y="2560.5" width="31.4" height="31.4" fill="#0000FF" clip-path="url(#cc)"/>
<path d="M330.0,3170.0 C332.5,3162.8 338.8,3142.2 344.9,3126.6 C351.0,3111.0 357.9,3097.8 366.8,3076.4 C375.7,3055.0 387.7,3027.3 398.2,2998.0 C408.7,2968.7 420.1,2934.1 429.6,2900.8 C439.1,2867.5 447.2,2825.2 455.0,2798.0 C462.8,2770.8 472.0,2751.6 476.6,2737.6 C481.2,2723.6 478.7,2727.9 482.9,2714.0 C487.1,2700.1 494.9,2670.4 501.7,2654.1 C508.5,2637.8 515.9,2627.4 523.7,2616.4 C531.6,2605.4 540.4,2596.0 548.8,2588.2 C557.2,2580.4 565.0,2575.2 573.9,2569.4 C582.8,2563.7 592.2,2558.4 602.1,2553.7 C612.0,2549.0 623.0,2544.6 633.5,2541.2 C644.0,2537.8 656.2,2535.1 664.8,2533.3 C673.4,2531.5 675.5,2532.1 685.1,2530.5 C694.8,2528.9 711.2,2526.8 722.7,2523.9 C734.2,2521.0 743.6,2516.5 754.1,2512.9 C764.6,2509.3 777.6,2504.2 785.5,2502.6 C793.4,2501.0 794.9,2501.0 801.2,2503.5 C807.5,2506.0 816.3,2511.1 823.1,2517.6 C829.9,2524.1 835.1,2532.2 841.9,2542.7 C848.7,2553.2 856.6,2567.8 863.9,2580.4 C871.2,2593.0 879.0,2607.0 885.8,2618.0 C892.6,2629.0 900.0,2639.4 904.7,2646.2 C909.4,2653.0 909.9,2653.6 914.1,2658.8 C918.3,2664.0 922.5,2669.8 929.8,2677.6 C937.1,2685.4 948.1,2696.4 958.0,2705.8 C967.9,2715.2 978.9,2725.7 989.4,2734.1 C999.9,2742.5 1010.2,2749.2 1020.7,2756.0 C1031.2,2762.8 1041.6,2769.2 1052.1,2774.9 C1062.6,2780.7 1073.0,2785.8 1083.5,2790.5 C1094.0,2795.2 1104.7,2799.5 1114.8,2803.1 C1124.9,2806.7 1130.7,2808.4 1143.9,2812.0 C1157.1,2815.6 1175.3,2820.6 1194.1,2824.5 C1212.9,2828.4 1235.9,2832.3 1256.8,2835.4 C1277.7,2838.5 1300.2,2841.6 1319.6,2843.3 C1338.9,2845.0 1352.0,2845.5 1372.9,2845.5 C1393.8,2845.5 1422.5,2844.5 1445.0,2843.3 C1467.5,2842.2 1486.9,2840.4 1507.8,2838.6 C1528.7,2836.8 1554.8,2834.2 1570.5,2832.3 C1586.2,2830.4 1584.3,2829.5 1601.8,2827.0 C1619.3,2824.5 1650.2,2819.9 1675.5,2817.2 C1700.8,2814.5 1727.7,2812.8 1753.9,2810.9 C1780.1,2809.0 1809.0,2807.6 1832.5,2806.0 C1856.0,2804.4 1874.1,2802.4 1895.0,2801.5 C1915.9,2800.6 1936.9,2800.3 1957.8,2800.3 C1978.7,2800.3 2003.1,2800.7 2020.5,2801.5 C2037.9,2802.3 2043.8,2803.1 2062.0,2805.0 C2080.2,2806.9 2106.8,2809.5 2129.6,2812.8 C2152.4,2816.1 2175.5,2820.0 2198.6,2824.9 C2221.7,2829.8 2256.4,2839.6 2268.0,2842.5" fill="none" stroke="#8000FF" stroke-width="7.9" stroke-linejoin="round" stroke-linecap="butt" clip-path="url(#cc)"/>
<polygon points="455.4,2773.7 434.4,2809.2 476.4,2809.2" fill="#8000FF" clip-path="url(#cc)"/>
<polygon points="685.1,2507.0 664.1,2542.7 706.1,2542.7" fill="#8000FF" clip-path="url(#cc)"/>
<polygon points="914.1,2635.3 893.1,2669.8 935.1,2669.8" fill="#8000FF" clip-path="url(#cc)"/>
<polygon points="1144.2,2788.6 1123.2,2825.5 1165.2,2825.5" fill="#8000FF" clip-path="url(#cc)"/>
<polygon points="1372.9,2819.8 1351.9,2857.4 1393.9,2857.4" fill="#8000FF" clip-path="url(#cc)"/>
<polygon points="1601.8,2807.8 1580.8,2843.3 1622.8,2843.3" fill="#8000FF" clip-path="url(#cc)"/>
<polygon points="1832.3,2783.6 1811.3,2820.3 1853.3,2820.3" fill="#8000FF" clip-path="url(#cc)"/>
<polygon points="2062.0,2784.0 2041.0,2819.2 2083.0,2819.2" fill="#8000FF" clip-path="url(#cc)"/>
<line x1="283.6" y1="2293.9" x2="447.9" y2="2293.9" stroke="#000000" stroke-width="7.9" stroke-linecap="round"/>
<rect x="349.9" y="2278.7" width="31.6" height="31.6" fill="#000000"/>
<line x1="666.0" y1="2293.9" x2="831.5" y2="2293.9" stroke="#0000FF" stroke-width="7.9" stroke-linecap="round" stroke-dasharray="21.6 27.4"/>
<rect x="732.9" y="2278.7" width="31.6" height="31.6" fill="#0000FF"/>
<line x1="1065.0" y1="2294.7" x2="1228.3" y2="2294.7" stroke="#8000FF" stroke-width="7.9" stroke-linecap="round"/>
<polygon points="1146.7,2272.1 1125.6,2308.6 1167.8,2308.6" fill="#8000FF"/>
<text x="464.2" y="2319.5" font-size="65.0" textLength="149.6" lengthAdjust="spacingAndGlyphs">sim.S</text>
<text x="611.9" y="2339.8" font-size="36.0" textLength="36.1" lengthAdjust="spacingAndGlyphs">21</text>
<text x="846.1" y="2318.5" font-size="65.0" textLength="161.8" lengthAdjust="spacingAndGlyphs">mea.S</text>
<text x="1008.9" y="2339.8" font-size="36.0" textLength="38.9" lengthAdjust="spacingAndGlyphs">21</text>
<text x="1246.6" y="2318.5" font-size="65.0" textLength="146.7" lengthAdjust="spacingAndGlyphs">ads.S</text>
<text x="1392.3" y="2339.8" font-size="36.0" textLength="32.8" lengthAdjust="spacingAndGlyphs">21</text>
</svg></body></html>
